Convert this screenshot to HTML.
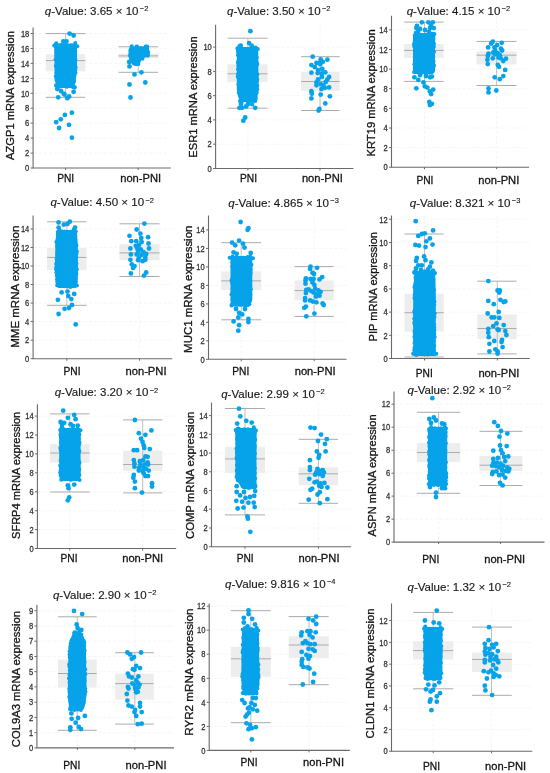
<!DOCTYPE html>
<html><head><meta charset="utf-8"><style>
html,body{margin:0;padding:0;background:#fff;}
svg{display:block;font-family:"Liberation Sans",sans-serif;filter:blur(0.4px);}
text{stroke:currentColor;stroke-width:0.28px;}
text.t{stroke-width:0.12px;}
</style></head><body>
<svg width="550" height="773" viewBox="0 0 550 773">
<rect width="550" height="773" fill="#fff"/>
<line x1="34.1" y1="153.1" x2="170.8" y2="153.1" stroke="#f2f2f2" stroke-width="0.8" stroke-dasharray="3,2"/>
<line x1="34.1" y1="138.1" x2="170.8" y2="138.1" stroke="#f2f2f2" stroke-width="0.8" stroke-dasharray="3,2"/>
<line x1="34.1" y1="123.2" x2="170.8" y2="123.2" stroke="#f2f2f2" stroke-width="0.8" stroke-dasharray="3,2"/>
<line x1="34.1" y1="108.2" x2="170.8" y2="108.2" stroke="#f2f2f2" stroke-width="0.8" stroke-dasharray="3,2"/>
<line x1="34.1" y1="93.3" x2="170.8" y2="93.3" stroke="#f2f2f2" stroke-width="0.8" stroke-dasharray="3,2"/>
<line x1="34.1" y1="78.4" x2="170.8" y2="78.4" stroke="#f2f2f2" stroke-width="0.8" stroke-dasharray="3,2"/>
<line x1="34.1" y1="63.4" x2="170.8" y2="63.4" stroke="#f2f2f2" stroke-width="0.8" stroke-dasharray="3,2"/>
<line x1="34.1" y1="48.5" x2="170.8" y2="48.5" stroke="#f2f2f2" stroke-width="0.8" stroke-dasharray="3,2"/>
<line x1="34.1" y1="33.5" x2="170.8" y2="33.5" stroke="#f2f2f2" stroke-width="0.8" stroke-dasharray="3,2"/>
<line x1="65.6" y1="27.5" x2="65.6" y2="168.0" stroke="#f2f2f2" stroke-width="0.8" stroke-dasharray="3,2"/>
<line x1="138.2" y1="27.5" x2="138.2" y2="168.0" stroke="#f2f2f2" stroke-width="0.8" stroke-dasharray="3,2"/>
<rect x="45.8" y="54.2" width="39.5" height="17.1" fill="#ededed"/>
<line x1="65.6" y1="33.6" x2="65.6" y2="97.3" stroke="#b0b0b0" stroke-width="0.8"/>
<line x1="45.8" y1="33.6" x2="85.3" y2="33.6" stroke="#ababab" stroke-width="1"/>
<line x1="45.8" y1="97.3" x2="85.3" y2="97.3" stroke="#ababab" stroke-width="1"/>
<line x1="45.8" y1="60.6" x2="85.3" y2="60.6" stroke="#ababab" stroke-width="1"/>
<rect x="118.5" y="53.6" width="39.7" height="4.6" fill="#ededed"/>
<line x1="138.2" y1="46.8" x2="138.2" y2="72.3" stroke="#b0b0b0" stroke-width="0.8"/>
<line x1="118.5" y1="46.8" x2="158.2" y2="46.8" stroke="#ababab" stroke-width="1"/>
<line x1="118.5" y1="72.3" x2="158.2" y2="72.3" stroke="#ababab" stroke-width="1"/>
<line x1="118.5" y1="55.9" x2="158.2" y2="55.9" stroke="#ababab" stroke-width="1"/>
<g fill="#06a3ea">
<path d="M55.0,43.5 L54.5,50.0 L54.5,60.0 L54.5,70.0 L55.0,78.0 L56.0,84.0 L57.0,88.0 L73.0,88.0 L75.0,84.0 L76.0,78.0 L77.0,70.0 L77.0,60.0 L77.0,50.0 L77.0,43.5Z"/>
<circle cx="56.2" cy="43.2" r="2"/>
<circle cx="55.8" cy="47.0" r="2"/>
<circle cx="56.1" cy="50.1" r="2"/>
<circle cx="56.3" cy="52.5" r="2"/>
<circle cx="56.2" cy="55.8" r="2"/>
<circle cx="55.6" cy="59.2" r="2"/>
<circle cx="56.9" cy="63.2" r="2"/>
<circle cx="55.8" cy="66.0" r="2"/>
<circle cx="57.1" cy="70.2" r="2"/>
<circle cx="56.3" cy="72.8" r="2"/>
<circle cx="55.8" cy="76.2" r="2"/>
<circle cx="56.4" cy="78.6" r="2"/>
<circle cx="56.6" cy="80.4" r="2"/>
<circle cx="58.4" cy="83.7" r="2"/>
<circle cx="75.3" cy="42.9" r="2"/>
<circle cx="75.0" cy="47.0" r="2"/>
<circle cx="74.4" cy="50.1" r="2"/>
<circle cx="74.7" cy="52.5" r="2"/>
<circle cx="75.1" cy="57.0" r="2"/>
<circle cx="75.4" cy="59.7" r="2"/>
<circle cx="74.8" cy="63.2" r="2"/>
<circle cx="75.6" cy="67.2" r="2"/>
<circle cx="75.3" cy="69.5" r="2"/>
<circle cx="75.5" cy="72.7" r="2"/>
<circle cx="74.2" cy="75.7" r="2"/>
<circle cx="73.5" cy="78.9" r="2"/>
<circle cx="74.2" cy="80.9" r="2"/>
<circle cx="73.2" cy="83.4" r="2"/>
<circle cx="54.2" cy="45.6" r="2"/>
<circle cx="58.2" cy="45.4" r="2"/>
<circle cx="61.2" cy="45.0" r="2"/>
<circle cx="63.6" cy="45.5" r="2"/>
<circle cx="66.1" cy="45.2" r="2"/>
<circle cx="69.4" cy="46.1" r="2"/>
<circle cx="71.5" cy="45.6" r="2"/>
<circle cx="73.5" cy="45.7" r="2"/>
<circle cx="77.3" cy="46.2" r="2"/>
<circle cx="57.6" cy="85.8" r="2"/>
<circle cx="59.5" cy="86.5" r="2"/>
<circle cx="61.5" cy="86.1" r="2"/>
<circle cx="64.4" cy="85.5" r="2"/>
<circle cx="66.9" cy="86.7" r="2"/>
<circle cx="69.7" cy="85.7" r="2"/>
<circle cx="72.8" cy="86.9" r="2"/>
<circle cx="69.6" cy="33.6" r="2.4"/>
<circle cx="73.6" cy="35.5" r="2.4"/>
<circle cx="63.3" cy="41.5" r="2.4"/>
<circle cx="66.4" cy="41.5" r="2.4"/>
<circle cx="58.2" cy="97.3" r="2.4"/>
<circle cx="64.5" cy="94.5" r="2.4"/>
<circle cx="67.3" cy="98.2" r="2.4"/>
<circle cx="69.1" cy="96.4" r="2.4"/>
<circle cx="73.6" cy="91.8" r="2.4"/>
<circle cx="74.5" cy="87.3" r="2.4"/>
<circle cx="57.3" cy="89.0" r="2.4"/>
<circle cx="56.4" cy="85.5" r="2.4"/>
<circle cx="63.6" cy="93.6" r="2.4"/>
<circle cx="61.0" cy="91.0" r="2.4"/>
<circle cx="71.9" cy="112.7" r="2.4"/>
<circle cx="64.9" cy="114.9" r="2.4"/>
<circle cx="60.8" cy="119.3" r="2.4"/>
<circle cx="56.2" cy="122.2" r="2.4"/>
<circle cx="69.0" cy="124.8" r="2.4"/>
<circle cx="59.1" cy="128.0" r="2.4"/>
<circle cx="71.9" cy="137.7" r="2.4"/>
</g>
<g fill="#06a3ea">
<path d="M130.0,47.0 L128.5,50.0 L128.5,53.0 L128.5,56.0 L129.0,58.0 L129.5,61.0 L133.0,64.0 L135.0,66.0 L139.0,66.0 L139.5,64.0 L140.5,61.0 L144.0,58.0 L149.5,56.0 L150.0,53.0 L149.0,50.0 L147.5,47.0Z"/>
<circle cx="131.7" cy="46.2" r="2"/>
<circle cx="131.0" cy="50.1" r="2"/>
<circle cx="131.0" cy="53.6" r="2"/>
<circle cx="130.1" cy="55.6" r="2"/>
<circle cx="131.5" cy="57.7" r="2"/>
<circle cx="130.7" cy="61.8" r="2"/>
<circle cx="134.3" cy="63.4" r="2"/>
<circle cx="145.7" cy="46.5" r="2"/>
<circle cx="146.8" cy="50.2" r="2"/>
<circle cx="148.1" cy="52.1" r="2"/>
<circle cx="147.8" cy="55.8" r="2"/>
<circle cx="142.5" cy="58.8" r="2"/>
<circle cx="138.9" cy="61.0" r="2"/>
<circle cx="136.9" cy="64.3" r="2"/>
<circle cx="130.7" cy="49.3" r="2"/>
<circle cx="133.6" cy="49.3" r="2"/>
<circle cx="135.6" cy="48.6" r="2"/>
<circle cx="138.0" cy="49.0" r="2"/>
<circle cx="140.9" cy="48.0" r="2"/>
<circle cx="144.1" cy="48.2" r="2"/>
<circle cx="147.2" cy="48.0" r="2"/>
<circle cx="134.1" cy="63.6" r="2"/>
<circle cx="138.3" cy="64.0" r="2"/>
<circle cx="129.5" cy="66.4" r="2.4"/>
<circle cx="129.2" cy="62.0" r="2.4"/>
<circle cx="134.5" cy="74.4" r="2.4"/>
<circle cx="141.4" cy="72.3" r="2.4"/>
<circle cx="129.5" cy="84.5" r="2.4"/>
<circle cx="145.3" cy="82.5" r="2.4"/>
<circle cx="130.5" cy="97.5" r="2.4"/>
<circle cx="146.8" cy="46.8" r="2.4"/>
<circle cx="136.8" cy="46.8" r="2.4"/>
</g>
<path d="M33.1,27.5 L33.1,168.0 L170.8,168.0" fill="none" stroke="#6a6a6a" stroke-width="1.1"/>
<line x1="30.6" y1="168.0" x2="33.1" y2="168.0" stroke="#6a6a6a" stroke-width="1"/>
<text x="25.1" y="171.2" font-size="8.7" textLength="4.20" lengthAdjust="spacingAndGlyphs" fill="#333" style="color:#333">0</text>
<line x1="30.6" y1="153.1" x2="33.1" y2="153.1" stroke="#6a6a6a" stroke-width="1"/>
<text x="25.1" y="156.3" font-size="8.7" textLength="4.20" lengthAdjust="spacingAndGlyphs" fill="#333" style="color:#333">2</text>
<line x1="30.6" y1="138.1" x2="33.1" y2="138.1" stroke="#6a6a6a" stroke-width="1"/>
<text x="25.1" y="141.3" font-size="8.7" textLength="4.20" lengthAdjust="spacingAndGlyphs" fill="#333" style="color:#333">4</text>
<line x1="30.6" y1="123.2" x2="33.1" y2="123.2" stroke="#6a6a6a" stroke-width="1"/>
<text x="25.1" y="126.4" font-size="8.7" textLength="4.20" lengthAdjust="spacingAndGlyphs" fill="#333" style="color:#333">6</text>
<line x1="30.6" y1="108.2" x2="33.1" y2="108.2" stroke="#6a6a6a" stroke-width="1"/>
<text x="25.1" y="111.4" font-size="8.7" textLength="4.20" lengthAdjust="spacingAndGlyphs" fill="#333" style="color:#333">8</text>
<line x1="30.6" y1="93.3" x2="33.1" y2="93.3" stroke="#6a6a6a" stroke-width="1"/>
<text x="20.9" y="96.5" font-size="8.7" textLength="8.40" lengthAdjust="spacingAndGlyphs" fill="#333" style="color:#333">10</text>
<line x1="30.6" y1="78.4" x2="33.1" y2="78.4" stroke="#6a6a6a" stroke-width="1"/>
<text x="20.9" y="81.6" font-size="8.7" textLength="8.40" lengthAdjust="spacingAndGlyphs" fill="#333" style="color:#333">12</text>
<line x1="30.6" y1="63.4" x2="33.1" y2="63.4" stroke="#6a6a6a" stroke-width="1"/>
<text x="20.9" y="66.6" font-size="8.7" textLength="8.40" lengthAdjust="spacingAndGlyphs" fill="#333" style="color:#333">14</text>
<line x1="30.6" y1="48.5" x2="33.1" y2="48.5" stroke="#6a6a6a" stroke-width="1"/>
<text x="20.9" y="51.7" font-size="8.7" textLength="8.40" lengthAdjust="spacingAndGlyphs" fill="#333" style="color:#333">16</text>
<line x1="30.6" y1="33.5" x2="33.1" y2="33.5" stroke="#6a6a6a" stroke-width="1"/>
<text x="20.9" y="36.7" font-size="8.7" textLength="8.40" lengthAdjust="spacingAndGlyphs" fill="#333" style="color:#333">18</text>
<line x1="65.6" y1="168.0" x2="65.6" y2="170.0" stroke="#6a6a6a" stroke-width="1"/>
<text x="57.2" y="182.4" font-size="11.3" textLength="17" lengthAdjust="spacingAndGlyphs" fill="#222">PNI</text>
<line x1="138.2" y1="168.0" x2="138.2" y2="170.0" stroke="#6a6a6a" stroke-width="1"/>
<text x="120.2" y="182.4" font-size="11.3" textLength="41" lengthAdjust="spacingAndGlyphs" fill="#222">non-PNI</text>
<text transform="translate(13.9,95.5) rotate(-90)" x="-64.5" y="0" font-size="11.2" textLength="129" lengthAdjust="spacingAndGlyphs" fill="#222">AZGP1 mRNA expression</text>
<text class="t" x="44.8" y="14.9" font-size="10.6" fill="#222" textLength="93.7" lengthAdjust="spacingAndGlyphs"><tspan font-style="italic">q</tspan>-Value: 3.65 × 10</text>
<text class="t" x="139.8" y="11.0" font-size="7.8" textLength="8.5" lengthAdjust="spacingAndGlyphs" fill="#222">−2</text>
<line x1="216.6" y1="144.2" x2="353.4" y2="144.2" stroke="#f2f2f2" stroke-width="0.8" stroke-dasharray="3,2"/>
<line x1="216.6" y1="119.9" x2="353.4" y2="119.9" stroke="#f2f2f2" stroke-width="0.8" stroke-dasharray="3,2"/>
<line x1="216.6" y1="95.7" x2="353.4" y2="95.7" stroke="#f2f2f2" stroke-width="0.8" stroke-dasharray="3,2"/>
<line x1="216.6" y1="71.4" x2="353.4" y2="71.4" stroke="#f2f2f2" stroke-width="0.8" stroke-dasharray="3,2"/>
<line x1="216.6" y1="47.1" x2="353.4" y2="47.1" stroke="#f2f2f2" stroke-width="0.8" stroke-dasharray="3,2"/>
<line x1="247.9" y1="24.7" x2="247.9" y2="168.5" stroke="#f2f2f2" stroke-width="0.8" stroke-dasharray="3,2"/>
<line x1="320.0" y1="24.7" x2="320.0" y2="168.5" stroke="#f2f2f2" stroke-width="0.8" stroke-dasharray="3,2"/>
<rect x="227.5" y="64.4" width="40.0" height="17.6" fill="#ededed"/>
<line x1="247.9" y1="38.2" x2="247.9" y2="108.2" stroke="#b0b0b0" stroke-width="0.8"/>
<line x1="227.5" y1="38.2" x2="267.5" y2="38.2" stroke="#ababab" stroke-width="1"/>
<line x1="227.5" y1="108.2" x2="267.5" y2="108.2" stroke="#ababab" stroke-width="1"/>
<line x1="227.5" y1="73.8" x2="267.5" y2="73.8" stroke="#ababab" stroke-width="1"/>
<rect x="301.1" y="72.0" width="38.5" height="18.9" fill="#ededed"/>
<line x1="320.0" y1="56.7" x2="320.0" y2="110.5" stroke="#b0b0b0" stroke-width="0.8"/>
<line x1="301.1" y1="56.7" x2="339.6" y2="56.7" stroke="#ababab" stroke-width="1"/>
<line x1="301.1" y1="110.5" x2="339.6" y2="110.5" stroke="#ababab" stroke-width="1"/>
<line x1="301.1" y1="81.5" x2="339.6" y2="81.5" stroke="#ababab" stroke-width="1"/>
<g fill="#06a3ea">
<path d="M237.0,47.0 L236.8,50.0 L236.8,90.0 L238.0,96.0 L240.0,102.0 L256.0,102.0 L257.5,96.0 L258.5,90.0 L258.2,50.0 L257.0,47.0Z"/>
<circle cx="239.5" cy="46.1" r="2"/>
<circle cx="238.0" cy="50.2" r="2"/>
<circle cx="238.3" cy="52.2" r="2"/>
<circle cx="237.9" cy="55.1" r="2"/>
<circle cx="239.5" cy="58.6" r="2"/>
<circle cx="238.6" cy="60.6" r="2"/>
<circle cx="237.9" cy="62.6" r="2"/>
<circle cx="238.2" cy="65.7" r="2"/>
<circle cx="238.0" cy="69.3" r="2"/>
<circle cx="239.4" cy="70.5" r="2"/>
<circle cx="238.0" cy="74.1" r="2"/>
<circle cx="237.7" cy="76.7" r="2"/>
<circle cx="239.5" cy="79.4" r="2"/>
<circle cx="239.0" cy="82.7" r="2"/>
<circle cx="238.4" cy="84.2" r="2"/>
<circle cx="239.1" cy="86.7" r="2"/>
<circle cx="239.1" cy="90.1" r="2"/>
<circle cx="238.7" cy="92.7" r="2"/>
<circle cx="240.7" cy="96.6" r="2"/>
<circle cx="241.4" cy="99.6" r="2"/>
<circle cx="255.6" cy="47.6" r="2"/>
<circle cx="256.4" cy="49.5" r="2"/>
<circle cx="255.6" cy="52.4" r="2"/>
<circle cx="256.0" cy="54.5" r="2"/>
<circle cx="256.8" cy="57.6" r="2"/>
<circle cx="256.4" cy="61.5" r="2"/>
<circle cx="257.4" cy="64.1" r="2"/>
<circle cx="256.3" cy="66.8" r="2"/>
<circle cx="256.0" cy="68.2" r="2"/>
<circle cx="256.0" cy="70.8" r="2"/>
<circle cx="257.3" cy="74.2" r="2"/>
<circle cx="256.6" cy="77.3" r="2"/>
<circle cx="257.2" cy="79.6" r="2"/>
<circle cx="256.9" cy="81.3" r="2"/>
<circle cx="257.2" cy="85.4" r="2"/>
<circle cx="256.6" cy="87.8" r="2"/>
<circle cx="257.2" cy="89.4" r="2"/>
<circle cx="256.7" cy="92.7" r="2"/>
<circle cx="255.5" cy="96.8" r="2"/>
<circle cx="255.8" cy="98.8" r="2"/>
<circle cx="237.4" cy="48.2" r="2"/>
<circle cx="239.2" cy="48.2" r="2"/>
<circle cx="243.4" cy="49.4" r="2"/>
<circle cx="244.9" cy="49.4" r="2"/>
<circle cx="249.3" cy="49.1" r="2"/>
<circle cx="251.0" cy="48.9" r="2"/>
<circle cx="253.5" cy="47.9" r="2"/>
<circle cx="257.8" cy="49.1" r="2"/>
<circle cx="240.0" cy="101.0" r="2"/>
<circle cx="242.5" cy="100.9" r="2"/>
<circle cx="245.9" cy="99.7" r="2"/>
<circle cx="247.6" cy="99.8" r="2"/>
<circle cx="250.2" cy="100.4" r="2"/>
<circle cx="252.9" cy="100.1" r="2"/>
<circle cx="255.3" cy="100.9" r="2"/>
<circle cx="250.4" cy="31.2" r="2.4"/>
<circle cx="240.7" cy="45.7" r="2.4"/>
<circle cx="249.1" cy="43.1" r="2.4"/>
<circle cx="251.7" cy="45.7" r="2.4"/>
<circle cx="254.3" cy="48.3" r="2.4"/>
<circle cx="239.4" cy="107.8" r="2.4"/>
<circle cx="242.0" cy="107.8" r="2.4"/>
<circle cx="246.0" cy="106.5" r="2.4"/>
<circle cx="255.2" cy="107.8" r="2.4"/>
<circle cx="245.2" cy="117.5" r="2.4"/>
<circle cx="243.3" cy="120.7" r="2.4"/>
<circle cx="241.0" cy="104.0" r="2.4"/>
<circle cx="252.0" cy="104.0" r="2.4"/>
<circle cx="248.0" cy="104.0" r="2.4"/>
</g>
<g fill="#06a3ea">
<circle cx="312.7" cy="56.7" r="2.4"/>
<circle cx="320.7" cy="59.3" r="2.4"/>
<circle cx="327.4" cy="59.7" r="2.4"/>
<circle cx="316.5" cy="63.0" r="2.4"/>
<circle cx="319.8" cy="62.6" r="2.4"/>
<circle cx="322.8" cy="61.8" r="2.4"/>
<circle cx="311.4" cy="65.1" r="2.4"/>
<circle cx="314.8" cy="67.2" r="2.4"/>
<circle cx="320.2" cy="64.3" r="2.4"/>
<circle cx="322.3" cy="68.9" r="2.4"/>
<circle cx="318.1" cy="70.2" r="2.4"/>
<circle cx="311.4" cy="72.7" r="2.4"/>
<circle cx="317.7" cy="73.1" r="2.4"/>
<circle cx="325.3" cy="72.3" r="2.4"/>
<circle cx="321.9" cy="73.5" r="2.4"/>
<circle cx="329.1" cy="76.9" r="2.4"/>
<circle cx="321.9" cy="76.9" r="2.4"/>
<circle cx="318.1" cy="79.4" r="2.4"/>
<circle cx="327.4" cy="79.4" r="2.4"/>
<circle cx="316.5" cy="82.4" r="2.4"/>
<circle cx="325.7" cy="82.0" r="2.4"/>
<circle cx="320.7" cy="84.1" r="2.4"/>
<circle cx="316.5" cy="85.3" r="2.4"/>
<circle cx="323.2" cy="85.3" r="2.4"/>
<circle cx="329.1" cy="87.4" r="2.4"/>
<circle cx="324.9" cy="87.8" r="2.4"/>
<circle cx="321.5" cy="89.1" r="2.4"/>
<circle cx="311.4" cy="91.2" r="2.4"/>
<circle cx="311.8" cy="93.7" r="2.4"/>
<circle cx="320.7" cy="94.6" r="2.4"/>
<circle cx="311.4" cy="98.4" r="2.4"/>
<circle cx="329.9" cy="96.3" r="2.4"/>
<circle cx="325.3" cy="103.4" r="2.4"/>
<circle cx="319.4" cy="108.9" r="2.4"/>
<circle cx="318.6" cy="110.6" r="2.4"/>
</g>
<path d="M215.6,24.7 L215.6,168.5 L353.4,168.5" fill="none" stroke="#6a6a6a" stroke-width="1.1"/>
<line x1="213.1" y1="168.5" x2="215.6" y2="168.5" stroke="#6a6a6a" stroke-width="1"/>
<text x="207.6" y="171.7" font-size="8.7" textLength="4.20" lengthAdjust="spacingAndGlyphs" fill="#333" style="color:#333">0</text>
<line x1="213.1" y1="144.2" x2="215.6" y2="144.2" stroke="#6a6a6a" stroke-width="1"/>
<text x="207.6" y="147.4" font-size="8.7" textLength="4.20" lengthAdjust="spacingAndGlyphs" fill="#333" style="color:#333">2</text>
<line x1="213.1" y1="119.9" x2="215.6" y2="119.9" stroke="#6a6a6a" stroke-width="1"/>
<text x="207.6" y="123.1" font-size="8.7" textLength="4.20" lengthAdjust="spacingAndGlyphs" fill="#333" style="color:#333">4</text>
<line x1="213.1" y1="95.7" x2="215.6" y2="95.7" stroke="#6a6a6a" stroke-width="1"/>
<text x="207.6" y="98.9" font-size="8.7" textLength="4.20" lengthAdjust="spacingAndGlyphs" fill="#333" style="color:#333">6</text>
<line x1="213.1" y1="71.4" x2="215.6" y2="71.4" stroke="#6a6a6a" stroke-width="1"/>
<text x="207.6" y="74.6" font-size="8.7" textLength="4.20" lengthAdjust="spacingAndGlyphs" fill="#333" style="color:#333">8</text>
<line x1="213.1" y1="47.1" x2="215.6" y2="47.1" stroke="#6a6a6a" stroke-width="1"/>
<text x="203.4" y="50.3" font-size="8.7" textLength="8.40" lengthAdjust="spacingAndGlyphs" fill="#333" style="color:#333">10</text>
<line x1="247.9" y1="168.5" x2="247.9" y2="170.5" stroke="#6a6a6a" stroke-width="1"/>
<text x="240.0" y="182.4" font-size="11.3" textLength="17" lengthAdjust="spacingAndGlyphs" fill="#222">PNI</text>
<line x1="320.0" y1="168.5" x2="320.0" y2="170.5" stroke="#6a6a6a" stroke-width="1"/>
<text x="301.9" y="182.4" font-size="11.3" textLength="41" lengthAdjust="spacingAndGlyphs" fill="#222">non-PNI</text>
<text transform="translate(197.0,97.0) rotate(-90)" x="-60.7" y="0" font-size="11.2" textLength="121.4" lengthAdjust="spacingAndGlyphs" fill="#222">ESR1 mRNA expression</text>
<text class="t" x="227.0" y="14.9" font-size="10.6" fill="#222" textLength="93.7" lengthAdjust="spacingAndGlyphs"><tspan font-style="italic">q</tspan>-Value: 3.50 × 10</text>
<text class="t" x="322.0" y="11.0" font-size="7.8" textLength="8.5" lengthAdjust="spacingAndGlyphs" fill="#222">−2</text>
<line x1="392.5" y1="147.6" x2="529.1" y2="147.6" stroke="#f2f2f2" stroke-width="0.8" stroke-dasharray="3,2"/>
<line x1="392.5" y1="128.0" x2="529.1" y2="128.0" stroke="#f2f2f2" stroke-width="0.8" stroke-dasharray="3,2"/>
<line x1="392.5" y1="108.3" x2="529.1" y2="108.3" stroke="#f2f2f2" stroke-width="0.8" stroke-dasharray="3,2"/>
<line x1="392.5" y1="88.7" x2="529.1" y2="88.7" stroke="#f2f2f2" stroke-width="0.8" stroke-dasharray="3,2"/>
<line x1="392.5" y1="69.1" x2="529.1" y2="69.1" stroke="#f2f2f2" stroke-width="0.8" stroke-dasharray="3,2"/>
<line x1="392.5" y1="49.5" x2="529.1" y2="49.5" stroke="#f2f2f2" stroke-width="0.8" stroke-dasharray="3,2"/>
<line x1="392.5" y1="29.9" x2="529.1" y2="29.9" stroke="#f2f2f2" stroke-width="0.8" stroke-dasharray="3,2"/>
<line x1="424.5" y1="15.8" x2="424.5" y2="167.2" stroke="#f2f2f2" stroke-width="0.8" stroke-dasharray="3,2"/>
<line x1="496.6" y1="15.8" x2="496.6" y2="167.2" stroke="#f2f2f2" stroke-width="0.8" stroke-dasharray="3,2"/>
<rect x="404.2" y="44.0" width="39.4" height="14.0" fill="#ededed"/>
<line x1="424.5" y1="22.1" x2="424.5" y2="81.4" stroke="#b0b0b0" stroke-width="0.8"/>
<line x1="404.2" y1="22.1" x2="443.6" y2="22.1" stroke="#ababab" stroke-width="1"/>
<line x1="404.2" y1="81.4" x2="443.6" y2="81.4" stroke="#ababab" stroke-width="1"/>
<line x1="404.2" y1="50.4" x2="443.6" y2="50.4" stroke="#ababab" stroke-width="1"/>
<rect x="476.5" y="51.3" width="40.0" height="13.1" fill="#ededed"/>
<line x1="496.6" y1="41.4" x2="496.6" y2="85.5" stroke="#b0b0b0" stroke-width="0.8"/>
<line x1="476.5" y1="41.4" x2="516.5" y2="41.4" stroke="#ababab" stroke-width="1"/>
<line x1="476.5" y1="85.5" x2="516.5" y2="85.5" stroke="#ababab" stroke-width="1"/>
<line x1="476.5" y1="55.2" x2="516.5" y2="55.2" stroke="#ababab" stroke-width="1"/>
<g fill="#06a3ea">
<path d="M414.0,33.0 L413.0,36.0 L413.0,70.0 L414.0,74.0 L433.0,74.0 L435.0,70.0 L435.0,36.0 L434.0,33.0Z"/>
<circle cx="415.7" cy="32.7" r="2"/>
<circle cx="415.5" cy="36.2" r="2"/>
<circle cx="415.6" cy="38.5" r="2"/>
<circle cx="414.9" cy="41.2" r="2"/>
<circle cx="413.9" cy="43.9" r="2"/>
<circle cx="414.2" cy="46.4" r="2"/>
<circle cx="415.3" cy="48.2" r="2"/>
<circle cx="414.8" cy="51.1" r="2"/>
<circle cx="414.9" cy="54.7" r="2"/>
<circle cx="414.8" cy="56.6" r="2"/>
<circle cx="415.3" cy="59.6" r="2"/>
<circle cx="414.9" cy="61.4" r="2"/>
<circle cx="414.4" cy="64.3" r="2"/>
<circle cx="414.8" cy="67.9" r="2"/>
<circle cx="415.3" cy="70.1" r="2"/>
<circle cx="432.1" cy="33.7" r="2"/>
<circle cx="433.2" cy="36.2" r="2"/>
<circle cx="433.5" cy="38.6" r="2"/>
<circle cx="433.3" cy="41.1" r="2"/>
<circle cx="434.0" cy="43.8" r="2"/>
<circle cx="433.9" cy="46.8" r="2"/>
<circle cx="432.8" cy="49.9" r="2"/>
<circle cx="434.0" cy="51.8" r="2"/>
<circle cx="432.5" cy="54.9" r="2"/>
<circle cx="433.1" cy="56.2" r="2"/>
<circle cx="432.7" cy="58.8" r="2"/>
<circle cx="433.5" cy="61.4" r="2"/>
<circle cx="433.9" cy="65.3" r="2"/>
<circle cx="433.6" cy="66.8" r="2"/>
<circle cx="432.6" cy="70.3" r="2"/>
<circle cx="414.7" cy="35.6" r="2"/>
<circle cx="416.4" cy="35.6" r="2"/>
<circle cx="419.5" cy="34.8" r="2"/>
<circle cx="423.5" cy="35.4" r="2"/>
<circle cx="424.8" cy="34.7" r="2"/>
<circle cx="428.3" cy="34.5" r="2"/>
<circle cx="430.6" cy="34.5" r="2"/>
<circle cx="434.4" cy="33.9" r="2"/>
<circle cx="414.1" cy="72.1" r="2"/>
<circle cx="415.8" cy="71.9" r="2"/>
<circle cx="419.7" cy="72.2" r="2"/>
<circle cx="421.4" cy="73.1" r="2"/>
<circle cx="425.4" cy="73.0" r="2"/>
<circle cx="426.9" cy="71.8" r="2"/>
<circle cx="429.5" cy="72.7" r="2"/>
<circle cx="432.6" cy="71.5" r="2"/>
<circle cx="416.3" cy="28.1" r="2.4"/>
<circle cx="420.0" cy="29.0" r="2.4"/>
<circle cx="425.0" cy="30.0" r="2.4"/>
<circle cx="430.0" cy="28.0" r="2.4"/>
<circle cx="433.8" cy="28.1" r="2.4"/>
<circle cx="418.0" cy="32.0" r="2.4"/>
<circle cx="429.0" cy="32.0" r="2.4"/>
<circle cx="421.9" cy="22.3" r="2.4"/>
<circle cx="428.4" cy="22.3" r="2.4"/>
<circle cx="432.8" cy="22.3" r="2.4"/>
<circle cx="417.0" cy="26.0" r="2.4"/>
<circle cx="431.0" cy="25.0" r="2.4"/>
<circle cx="414.4" cy="77.3" r="2.4"/>
<circle cx="418.3" cy="79.9" r="2.4"/>
<circle cx="430.0" cy="77.3" r="2.4"/>
<circle cx="431.9" cy="76.6" r="2.4"/>
<circle cx="423.5" cy="82.4" r="2.4"/>
<circle cx="424.8" cy="86.3" r="2.4"/>
<circle cx="427.3" cy="87.6" r="2.4"/>
<circle cx="416.3" cy="88.3" r="2.4"/>
<circle cx="433.2" cy="89.6" r="2.4"/>
<circle cx="429.9" cy="91.5" r="2.4"/>
<circle cx="431.2" cy="94.1" r="2.4"/>
<circle cx="429.3" cy="101.9" r="2.4"/>
<circle cx="431.9" cy="103.8" r="2.4"/>
<circle cx="429.9" cy="105.1" r="2.4"/>
<circle cx="420.0" cy="75.0" r="2.4"/>
<circle cx="426.0" cy="76.0" r="2.4"/>
</g>
<g fill="#06a3ea">
<circle cx="492.8" cy="41.6" r="2.4"/>
<circle cx="491.2" cy="43.5" r="2.4"/>
<circle cx="501.7" cy="42.8" r="2.4"/>
<circle cx="497.1" cy="45.1" r="2.4"/>
<circle cx="488.1" cy="47.4" r="2.4"/>
<circle cx="494.4" cy="47.4" r="2.4"/>
<circle cx="500.9" cy="48.6" r="2.4"/>
<circle cx="502.1" cy="50.5" r="2.4"/>
<circle cx="495.1" cy="50.5" r="2.4"/>
<circle cx="493.2" cy="52.5" r="2.4"/>
<circle cx="488.5" cy="53.6" r="2.4"/>
<circle cx="497.8" cy="53.2" r="2.4"/>
<circle cx="499.8" cy="55.2" r="2.4"/>
<circle cx="495.1" cy="54.4" r="2.4"/>
<circle cx="487.8" cy="55.9" r="2.4"/>
<circle cx="492.8" cy="58.3" r="2.4"/>
<circle cx="498.6" cy="57.5" r="2.4"/>
<circle cx="500.9" cy="58.3" r="2.4"/>
<circle cx="506.0" cy="58.7" r="2.4"/>
<circle cx="503.3" cy="61.0" r="2.4"/>
<circle cx="487.4" cy="59.8" r="2.4"/>
<circle cx="487.8" cy="64.1" r="2.4"/>
<circle cx="497.8" cy="64.9" r="2.4"/>
<circle cx="499.0" cy="66.8" r="2.4"/>
<circle cx="505.2" cy="69.9" r="2.4"/>
<circle cx="494.7" cy="77.3" r="2.4"/>
<circle cx="499.8" cy="79.2" r="2.4"/>
<circle cx="503.3" cy="76.1" r="2.4"/>
<circle cx="488.5" cy="88.5" r="2.4"/>
<circle cx="488.5" cy="92.4" r="2.4"/>
<circle cx="496.3" cy="90.5" r="2.4"/>
</g>
<path d="M391.5,15.8 L391.5,167.2 L529.1,167.2" fill="none" stroke="#6a6a6a" stroke-width="1.1"/>
<line x1="389.0" y1="167.2" x2="391.5" y2="167.2" stroke="#6a6a6a" stroke-width="1"/>
<text x="383.5" y="170.4" font-size="8.7" textLength="4.20" lengthAdjust="spacingAndGlyphs" fill="#333" style="color:#333">0</text>
<line x1="389.0" y1="147.6" x2="391.5" y2="147.6" stroke="#6a6a6a" stroke-width="1"/>
<text x="383.5" y="150.8" font-size="8.7" textLength="4.20" lengthAdjust="spacingAndGlyphs" fill="#333" style="color:#333">2</text>
<line x1="389.0" y1="128.0" x2="391.5" y2="128.0" stroke="#6a6a6a" stroke-width="1"/>
<text x="383.5" y="131.2" font-size="8.7" textLength="4.20" lengthAdjust="spacingAndGlyphs" fill="#333" style="color:#333">4</text>
<line x1="389.0" y1="108.3" x2="391.5" y2="108.3" stroke="#6a6a6a" stroke-width="1"/>
<text x="383.5" y="111.5" font-size="8.7" textLength="4.20" lengthAdjust="spacingAndGlyphs" fill="#333" style="color:#333">6</text>
<line x1="389.0" y1="88.7" x2="391.5" y2="88.7" stroke="#6a6a6a" stroke-width="1"/>
<text x="383.5" y="91.9" font-size="8.7" textLength="4.20" lengthAdjust="spacingAndGlyphs" fill="#333" style="color:#333">8</text>
<line x1="389.0" y1="69.1" x2="391.5" y2="69.1" stroke="#6a6a6a" stroke-width="1"/>
<text x="379.3" y="72.3" font-size="8.7" textLength="8.40" lengthAdjust="spacingAndGlyphs" fill="#333" style="color:#333">10</text>
<line x1="389.0" y1="49.5" x2="391.5" y2="49.5" stroke="#6a6a6a" stroke-width="1"/>
<text x="379.3" y="52.7" font-size="8.7" textLength="8.40" lengthAdjust="spacingAndGlyphs" fill="#333" style="color:#333">12</text>
<line x1="389.0" y1="29.9" x2="391.5" y2="29.9" stroke="#6a6a6a" stroke-width="1"/>
<text x="379.3" y="33.1" font-size="8.7" textLength="8.40" lengthAdjust="spacingAndGlyphs" fill="#333" style="color:#333">14</text>
<line x1="424.5" y1="167.2" x2="424.5" y2="169.2" stroke="#6a6a6a" stroke-width="1"/>
<text x="416.4" y="184.1" font-size="11.3" textLength="17" lengthAdjust="spacingAndGlyphs" fill="#222">PNI</text>
<line x1="496.6" y1="167.2" x2="496.6" y2="169.2" stroke="#6a6a6a" stroke-width="1"/>
<text x="478.3" y="184.1" font-size="11.3" textLength="41" lengthAdjust="spacingAndGlyphs" fill="#222">non-PNI</text>
<text transform="translate(375.4,92.9) rotate(-90)" x="-63.6" y="0" font-size="11.2" textLength="127.2" lengthAdjust="spacingAndGlyphs" fill="#222">KRT19 mRNA expression</text>
<text class="t" x="406.7" y="14.9" font-size="10.6" fill="#222" textLength="93.7" lengthAdjust="spacingAndGlyphs"><tspan font-style="italic">q</tspan>-Value: 4.15 × 10</text>
<text class="t" x="501.7" y="11.0" font-size="7.8" textLength="8.5" lengthAdjust="spacingAndGlyphs" fill="#222">−2</text>
<line x1="34.1" y1="340.2" x2="172.3" y2="340.2" stroke="#f2f2f2" stroke-width="0.8" stroke-dasharray="3,2"/>
<line x1="34.1" y1="321.6" x2="172.3" y2="321.6" stroke="#f2f2f2" stroke-width="0.8" stroke-dasharray="3,2"/>
<line x1="34.1" y1="303.1" x2="172.3" y2="303.1" stroke="#f2f2f2" stroke-width="0.8" stroke-dasharray="3,2"/>
<line x1="34.1" y1="284.5" x2="172.3" y2="284.5" stroke="#f2f2f2" stroke-width="0.8" stroke-dasharray="3,2"/>
<line x1="34.1" y1="266.0" x2="172.3" y2="266.0" stroke="#f2f2f2" stroke-width="0.8" stroke-dasharray="3,2"/>
<line x1="34.1" y1="247.5" x2="172.3" y2="247.5" stroke="#f2f2f2" stroke-width="0.8" stroke-dasharray="3,2"/>
<line x1="34.1" y1="228.9" x2="172.3" y2="228.9" stroke="#f2f2f2" stroke-width="0.8" stroke-dasharray="3,2"/>
<line x1="66.8" y1="215.5" x2="66.8" y2="358.7" stroke="#f2f2f2" stroke-width="0.8" stroke-dasharray="3,2"/>
<line x1="139.5" y1="215.5" x2="139.5" y2="358.7" stroke="#f2f2f2" stroke-width="0.8" stroke-dasharray="3,2"/>
<rect x="47.1" y="248.0" width="39.4" height="22.2" fill="#ededed"/>
<line x1="66.8" y1="221.8" x2="66.8" y2="305.3" stroke="#b0b0b0" stroke-width="0.8"/>
<line x1="47.1" y1="221.8" x2="86.5" y2="221.8" stroke="#ababab" stroke-width="1"/>
<line x1="47.1" y1="305.3" x2="86.5" y2="305.3" stroke="#ababab" stroke-width="1"/>
<line x1="47.1" y1="257.4" x2="86.5" y2="257.4" stroke="#ababab" stroke-width="1"/>
<rect x="119.5" y="244.2" width="40.0" height="16.0" fill="#ededed"/>
<line x1="139.5" y1="223.8" x2="139.5" y2="276.5" stroke="#b0b0b0" stroke-width="0.8"/>
<line x1="119.5" y1="223.8" x2="159.5" y2="223.8" stroke="#ababab" stroke-width="1"/>
<line x1="119.5" y1="276.5" x2="159.5" y2="276.5" stroke="#ababab" stroke-width="1"/>
<line x1="119.5" y1="252.9" x2="159.5" y2="252.9" stroke="#ababab" stroke-width="1"/>
<g fill="#06a3ea">
<path d="M57.0,230.0 L55.5,240.0 L54.9,270.0 L56.0,282.0 L58.0,288.0 L76.0,288.0 L77.5,282.0 L78.0,270.0 L77.5,240.0 L76.5,230.0Z"/>
<circle cx="59.5" cy="229.9" r="2"/>
<circle cx="57.9" cy="233.9" r="2"/>
<circle cx="58.6" cy="236.0" r="2"/>
<circle cx="57.7" cy="240.1" r="2"/>
<circle cx="56.4" cy="242.0" r="2"/>
<circle cx="57.1" cy="245.8" r="2"/>
<circle cx="57.9" cy="247.4" r="2"/>
<circle cx="57.6" cy="251.2" r="2"/>
<circle cx="57.7" cy="252.9" r="2"/>
<circle cx="57.6" cy="255.6" r="2"/>
<circle cx="56.6" cy="259.0" r="2"/>
<circle cx="57.6" cy="261.9" r="2"/>
<circle cx="56.1" cy="264.1" r="2"/>
<circle cx="56.3" cy="267.3" r="2"/>
<circle cx="56.1" cy="269.3" r="2"/>
<circle cx="56.4" cy="272.2" r="2"/>
<circle cx="56.9" cy="275.7" r="2"/>
<circle cx="57.1" cy="279.5" r="2"/>
<circle cx="57.2" cy="282.0" r="2"/>
<circle cx="57.9" cy="284.7" r="2"/>
<circle cx="73.8" cy="229.6" r="2"/>
<circle cx="75.1" cy="233.8" r="2"/>
<circle cx="75.3" cy="236.1" r="2"/>
<circle cx="75.0" cy="240.8" r="2"/>
<circle cx="75.6" cy="243.3" r="2"/>
<circle cx="76.4" cy="245.4" r="2"/>
<circle cx="75.8" cy="248.0" r="2"/>
<circle cx="76.8" cy="251.2" r="2"/>
<circle cx="76.5" cy="253.4" r="2"/>
<circle cx="76.2" cy="256.7" r="2"/>
<circle cx="75.7" cy="258.9" r="2"/>
<circle cx="75.4" cy="261.0" r="2"/>
<circle cx="76.5" cy="263.8" r="2"/>
<circle cx="75.5" cy="266.8" r="2"/>
<circle cx="76.8" cy="269.3" r="2"/>
<circle cx="76.4" cy="273.7" r="2"/>
<circle cx="75.5" cy="275.6" r="2"/>
<circle cx="75.8" cy="278.6" r="2"/>
<circle cx="75.6" cy="281.4" r="2"/>
<circle cx="75.8" cy="284.6" r="2"/>
<circle cx="57.9" cy="231.9" r="2"/>
<circle cx="59.3" cy="232.6" r="2"/>
<circle cx="62.2" cy="231.5" r="2"/>
<circle cx="64.5" cy="231.6" r="2"/>
<circle cx="68.1" cy="231.8" r="2"/>
<circle cx="70.4" cy="231.8" r="2"/>
<circle cx="72.8" cy="231.4" r="2"/>
<circle cx="75.8" cy="231.6" r="2"/>
<circle cx="57.2" cy="285.3" r="2"/>
<circle cx="60.6" cy="285.7" r="2"/>
<circle cx="64.2" cy="286.3" r="2"/>
<circle cx="67.5" cy="286.5" r="2"/>
<circle cx="70.4" cy="286.9" r="2"/>
<circle cx="72.8" cy="285.9" r="2"/>
<circle cx="76.9" cy="285.6" r="2"/>
<circle cx="58.6" cy="222.4" r="2.4"/>
<circle cx="63.8" cy="224.7" r="2.4"/>
<circle cx="69.8" cy="221.7" r="2.4"/>
<circle cx="67.5" cy="223.9" r="2.4"/>
<circle cx="58.6" cy="227.6" r="2.4"/>
<circle cx="75.0" cy="227.6" r="2.4"/>
<circle cx="61.6" cy="292.4" r="2.4"/>
<circle cx="67.5" cy="291.6" r="2.4"/>
<circle cx="74.2" cy="293.9" r="2.4"/>
<circle cx="68.3" cy="296.1" r="2.4"/>
<circle cx="57.9" cy="299.8" r="2.4"/>
<circle cx="71.3" cy="299.1" r="2.4"/>
<circle cx="72.0" cy="305.0" r="2.4"/>
<circle cx="69.0" cy="308.0" r="2.4"/>
<circle cx="64.6" cy="308.8" r="2.4"/>
<circle cx="58.6" cy="314.0" r="2.4"/>
<circle cx="75.7" cy="324.4" r="2.4"/>
</g>
<g fill="#06a3ea">
<circle cx="144.4" cy="223.6" r="2.4"/>
<circle cx="136.7" cy="229.5" r="2.4"/>
<circle cx="140.4" cy="233.6" r="2.4"/>
<circle cx="141.3" cy="238.1" r="2.4"/>
<circle cx="129.5" cy="235.8" r="2.4"/>
<circle cx="148.1" cy="237.2" r="2.4"/>
<circle cx="131.3" cy="241.2" r="2.4"/>
<circle cx="136.3" cy="241.2" r="2.4"/>
<circle cx="141.7" cy="242.1" r="2.4"/>
<circle cx="148.5" cy="243.5" r="2.4"/>
<circle cx="135.8" cy="245.8" r="2.4"/>
<circle cx="139.0" cy="244.9" r="2.4"/>
<circle cx="149.0" cy="248.5" r="2.4"/>
<circle cx="130.4" cy="248.5" r="2.4"/>
<circle cx="137.2" cy="248.5" r="2.4"/>
<circle cx="140.8" cy="249.4" r="2.4"/>
<circle cx="138.1" cy="252.1" r="2.4"/>
<circle cx="143.5" cy="252.1" r="2.4"/>
<circle cx="146.2" cy="253.9" r="2.4"/>
<circle cx="130.9" cy="254.4" r="2.4"/>
<circle cx="136.7" cy="254.4" r="2.4"/>
<circle cx="141.7" cy="254.8" r="2.4"/>
<circle cx="139.0" cy="257.5" r="2.4"/>
<circle cx="145.3" cy="257.5" r="2.4"/>
<circle cx="130.4" cy="259.8" r="2.4"/>
<circle cx="138.1" cy="260.2" r="2.4"/>
<circle cx="142.6" cy="261.2" r="2.4"/>
<circle cx="145.3" cy="259.8" r="2.4"/>
<circle cx="131.8" cy="264.3" r="2.4"/>
<circle cx="134.5" cy="266.1" r="2.4"/>
<circle cx="133.1" cy="267.9" r="2.4"/>
<circle cx="130.9" cy="273.4" r="2.4"/>
<circle cx="146.2" cy="272.5" r="2.4"/>
<circle cx="144.0" cy="275.6" r="2.4"/>
</g>
<path d="M33.1,215.5 L33.1,358.7 L172.3,358.7" fill="none" stroke="#6a6a6a" stroke-width="1.1"/>
<line x1="30.6" y1="358.7" x2="33.1" y2="358.7" stroke="#6a6a6a" stroke-width="1"/>
<text x="25.1" y="361.9" font-size="8.7" textLength="4.20" lengthAdjust="spacingAndGlyphs" fill="#333" style="color:#333">0</text>
<line x1="30.6" y1="340.2" x2="33.1" y2="340.2" stroke="#6a6a6a" stroke-width="1"/>
<text x="25.1" y="343.4" font-size="8.7" textLength="4.20" lengthAdjust="spacingAndGlyphs" fill="#333" style="color:#333">2</text>
<line x1="30.6" y1="321.6" x2="33.1" y2="321.6" stroke="#6a6a6a" stroke-width="1"/>
<text x="25.1" y="324.8" font-size="8.7" textLength="4.20" lengthAdjust="spacingAndGlyphs" fill="#333" style="color:#333">4</text>
<line x1="30.6" y1="303.1" x2="33.1" y2="303.1" stroke="#6a6a6a" stroke-width="1"/>
<text x="25.1" y="306.3" font-size="8.7" textLength="4.20" lengthAdjust="spacingAndGlyphs" fill="#333" style="color:#333">6</text>
<line x1="30.6" y1="284.5" x2="33.1" y2="284.5" stroke="#6a6a6a" stroke-width="1"/>
<text x="25.1" y="287.7" font-size="8.7" textLength="4.20" lengthAdjust="spacingAndGlyphs" fill="#333" style="color:#333">8</text>
<line x1="30.6" y1="266.0" x2="33.1" y2="266.0" stroke="#6a6a6a" stroke-width="1"/>
<text x="20.9" y="269.2" font-size="8.7" textLength="8.40" lengthAdjust="spacingAndGlyphs" fill="#333" style="color:#333">10</text>
<line x1="30.6" y1="247.5" x2="33.1" y2="247.5" stroke="#6a6a6a" stroke-width="1"/>
<text x="20.9" y="250.7" font-size="8.7" textLength="8.40" lengthAdjust="spacingAndGlyphs" fill="#333" style="color:#333">12</text>
<line x1="30.6" y1="228.9" x2="33.1" y2="228.9" stroke="#6a6a6a" stroke-width="1"/>
<text x="20.9" y="232.1" font-size="8.7" textLength="8.40" lengthAdjust="spacingAndGlyphs" fill="#333" style="color:#333">14</text>
<line x1="66.8" y1="358.7" x2="66.8" y2="360.7" stroke="#6a6a6a" stroke-width="1"/>
<text x="63.5" y="374.5" font-size="11.3" textLength="17" lengthAdjust="spacingAndGlyphs" fill="#222">PNI</text>
<line x1="139.5" y1="358.7" x2="139.5" y2="360.7" stroke="#6a6a6a" stroke-width="1"/>
<text x="125.5" y="374.5" font-size="11.3" textLength="41" lengthAdjust="spacingAndGlyphs" fill="#222">non-PNI</text>
<text transform="translate(19.1,286.7) rotate(-90)" x="-61.1" y="0" font-size="11.2" textLength="122.2" lengthAdjust="spacingAndGlyphs" fill="#222">MME mRNA expression</text>
<text class="t" x="50.4" y="206.4" font-size="10.6" fill="#222" textLength="93.7" lengthAdjust="spacingAndGlyphs"><tspan font-style="italic">q</tspan>-Value: 4.50 × 10</text>
<text class="t" x="145.4" y="202.5" font-size="7.8" textLength="8.5" lengthAdjust="spacingAndGlyphs" fill="#222">−2</text>
<line x1="209.5" y1="340.8" x2="346.5" y2="340.8" stroke="#f2f2f2" stroke-width="0.8" stroke-dasharray="3,2"/>
<line x1="209.5" y1="322.3" x2="346.5" y2="322.3" stroke="#f2f2f2" stroke-width="0.8" stroke-dasharray="3,2"/>
<line x1="209.5" y1="303.9" x2="346.5" y2="303.9" stroke="#f2f2f2" stroke-width="0.8" stroke-dasharray="3,2"/>
<line x1="209.5" y1="285.4" x2="346.5" y2="285.4" stroke="#f2f2f2" stroke-width="0.8" stroke-dasharray="3,2"/>
<line x1="209.5" y1="266.9" x2="346.5" y2="266.9" stroke="#f2f2f2" stroke-width="0.8" stroke-dasharray="3,2"/>
<line x1="209.5" y1="248.4" x2="346.5" y2="248.4" stroke="#f2f2f2" stroke-width="0.8" stroke-dasharray="3,2"/>
<line x1="209.5" y1="229.9" x2="346.5" y2="229.9" stroke="#f2f2f2" stroke-width="0.8" stroke-dasharray="3,2"/>
<line x1="241.2" y1="215.5" x2="241.2" y2="359.3" stroke="#f2f2f2" stroke-width="0.8" stroke-dasharray="3,2"/>
<line x1="314.1" y1="215.5" x2="314.1" y2="359.3" stroke="#f2f2f2" stroke-width="0.8" stroke-dasharray="3,2"/>
<rect x="221.2" y="271.4" width="39.9" height="18.6" fill="#ededed"/>
<line x1="241.2" y1="242.7" x2="241.2" y2="319.8" stroke="#b0b0b0" stroke-width="0.8"/>
<line x1="221.2" y1="242.7" x2="261.1" y2="242.7" stroke="#ababab" stroke-width="1"/>
<line x1="221.2" y1="319.8" x2="261.1" y2="319.8" stroke="#ababab" stroke-width="1"/>
<line x1="221.2" y1="280.9" x2="261.1" y2="280.9" stroke="#ababab" stroke-width="1"/>
<rect x="294.5" y="280.5" width="39.2" height="19.6" fill="#ededed"/>
<line x1="314.1" y1="266.6" x2="314.1" y2="316.4" stroke="#b0b0b0" stroke-width="0.8"/>
<line x1="294.5" y1="266.6" x2="333.7" y2="266.6" stroke="#ababab" stroke-width="1"/>
<line x1="294.5" y1="316.4" x2="333.7" y2="316.4" stroke="#ababab" stroke-width="1"/>
<line x1="294.5" y1="290.6" x2="333.7" y2="290.6" stroke="#ababab" stroke-width="1"/>
<g fill="#06a3ea">
<path d="M230.5,256.0 L230.5,300.0 L232.0,306.6 L248.4,306.6 L252.3,300.0 L252.3,256.0Z"/>
<circle cx="232.6" cy="256.4" r="2"/>
<circle cx="232.9" cy="257.9" r="2"/>
<circle cx="232.5" cy="262.2" r="2"/>
<circle cx="232.9" cy="264.7" r="2"/>
<circle cx="232.3" cy="266.4" r="2"/>
<circle cx="232.9" cy="269.8" r="2"/>
<circle cx="232.9" cy="273.0" r="2"/>
<circle cx="233.0" cy="275.4" r="2"/>
<circle cx="232.6" cy="278.3" r="2"/>
<circle cx="231.5" cy="280.3" r="2"/>
<circle cx="232.0" cy="282.8" r="2"/>
<circle cx="232.9" cy="285.5" r="2"/>
<circle cx="232.5" cy="289.1" r="2"/>
<circle cx="232.6" cy="292.0" r="2"/>
<circle cx="231.4" cy="294.5" r="2"/>
<circle cx="232.7" cy="297.8" r="2"/>
<circle cx="232.4" cy="300.0" r="2"/>
<circle cx="232.3" cy="303.6" r="2"/>
<circle cx="250.1" cy="256.4" r="2"/>
<circle cx="250.1" cy="258.0" r="2"/>
<circle cx="250.0" cy="261.9" r="2"/>
<circle cx="251.4" cy="264.7" r="2"/>
<circle cx="250.3" cy="267.0" r="2"/>
<circle cx="250.8" cy="269.7" r="2"/>
<circle cx="250.7" cy="273.0" r="2"/>
<circle cx="249.7" cy="275.5" r="2"/>
<circle cx="250.1" cy="277.4" r="2"/>
<circle cx="250.1" cy="281.2" r="2"/>
<circle cx="249.6" cy="283.6" r="2"/>
<circle cx="250.1" cy="285.5" r="2"/>
<circle cx="250.8" cy="289.3" r="2"/>
<circle cx="250.1" cy="292.1" r="2"/>
<circle cx="250.4" cy="294.5" r="2"/>
<circle cx="249.8" cy="297.2" r="2"/>
<circle cx="250.0" cy="300.7" r="2"/>
<circle cx="249.3" cy="304.2" r="2"/>
<circle cx="229.6" cy="257.7" r="2"/>
<circle cx="233.8" cy="258.6" r="2"/>
<circle cx="235.9" cy="257.4" r="2"/>
<circle cx="238.2" cy="258.6" r="2"/>
<circle cx="240.9" cy="257.9" r="2"/>
<circle cx="243.5" cy="257.8" r="2"/>
<circle cx="247.7" cy="257.1" r="2"/>
<circle cx="250.2" cy="257.8" r="2"/>
<circle cx="253.0" cy="258.2" r="2"/>
<circle cx="231.5" cy="305.5" r="2"/>
<circle cx="234.7" cy="303.9" r="2"/>
<circle cx="236.6" cy="304.8" r="2"/>
<circle cx="240.1" cy="304.4" r="2"/>
<circle cx="242.3" cy="304.5" r="2"/>
<circle cx="245.3" cy="305.4" r="2"/>
<circle cx="247.5" cy="305.3" r="2"/>
<circle cx="240.6" cy="222.0" r="2.4"/>
<circle cx="247.6" cy="229.8" r="2.4"/>
<circle cx="248.4" cy="228.2" r="2.4"/>
<circle cx="232.1" cy="242.6" r="2.4"/>
<circle cx="235.2" cy="245.3" r="2.4"/>
<circle cx="239.1" cy="240.6" r="2.4"/>
<circle cx="243.0" cy="243.7" r="2.4"/>
<circle cx="244.5" cy="247.6" r="2.4"/>
<circle cx="233.6" cy="252.3" r="2.4"/>
<circle cx="236.7" cy="253.8" r="2.4"/>
<circle cx="250.7" cy="253.0" r="2.4"/>
<circle cx="239.1" cy="312.8" r="2.4"/>
<circle cx="242.2" cy="314.4" r="2.4"/>
<circle cx="238.3" cy="317.5" r="2.4"/>
<circle cx="233.6" cy="321.4" r="2.4"/>
<circle cx="248.4" cy="319.0" r="2.4"/>
<circle cx="248.4" cy="322.1" r="2.4"/>
<circle cx="239.1" cy="325.2" r="2.4"/>
<circle cx="238.3" cy="330.7" r="2.4"/>
<circle cx="236.0" cy="309.0" r="2.4"/>
<circle cx="245.0" cy="309.0" r="2.4"/>
</g>
<g fill="#06a3ea">
<circle cx="310.5" cy="266.6" r="2.4"/>
<circle cx="310.1" cy="268.9" r="2.4"/>
<circle cx="317.1" cy="267.8" r="2.4"/>
<circle cx="312.5" cy="272.8" r="2.4"/>
<circle cx="314.0" cy="274.0" r="2.4"/>
<circle cx="305.9" cy="278.3" r="2.4"/>
<circle cx="305.5" cy="280.6" r="2.4"/>
<circle cx="305.5" cy="283.7" r="2.4"/>
<circle cx="310.5" cy="279.0" r="2.4"/>
<circle cx="313.6" cy="279.0" r="2.4"/>
<circle cx="312.5" cy="282.5" r="2.4"/>
<circle cx="314.4" cy="284.9" r="2.4"/>
<circle cx="322.2" cy="277.1" r="2.4"/>
<circle cx="319.5" cy="279.4" r="2.4"/>
<circle cx="306.3" cy="289.9" r="2.4"/>
<circle cx="305.9" cy="293.0" r="2.4"/>
<circle cx="308.6" cy="289.5" r="2.4"/>
<circle cx="311.3" cy="291.1" r="2.4"/>
<circle cx="315.2" cy="288.7" r="2.4"/>
<circle cx="318.3" cy="290.3" r="2.4"/>
<circle cx="320.6" cy="291.8" r="2.4"/>
<circle cx="313.6" cy="292.6" r="2.4"/>
<circle cx="317.1" cy="294.2" r="2.4"/>
<circle cx="319.5" cy="295.7" r="2.4"/>
<circle cx="316.0" cy="296.5" r="2.4"/>
<circle cx="305.1" cy="298.1" r="2.4"/>
<circle cx="305.1" cy="300.4" r="2.4"/>
<circle cx="310.1" cy="300.4" r="2.4"/>
<circle cx="312.9" cy="301.6" r="2.4"/>
<circle cx="316.4" cy="302.3" r="2.4"/>
<circle cx="322.6" cy="303.5" r="2.4"/>
<circle cx="323.7" cy="305.0" r="2.4"/>
<circle cx="305.9" cy="306.6" r="2.4"/>
<circle cx="304.3" cy="307.8" r="2.4"/>
<circle cx="314.4" cy="313.6" r="2.4"/>
<circle cx="306.3" cy="316.3" r="2.4"/>
</g>
<path d="M208.5,215.5 L208.5,359.3 L346.5,359.3" fill="none" stroke="#6a6a6a" stroke-width="1.1"/>
<line x1="206.0" y1="359.3" x2="208.5" y2="359.3" stroke="#6a6a6a" stroke-width="1"/>
<text x="200.5" y="362.5" font-size="8.7" textLength="4.20" lengthAdjust="spacingAndGlyphs" fill="#333" style="color:#333">0</text>
<line x1="206.0" y1="340.8" x2="208.5" y2="340.8" stroke="#6a6a6a" stroke-width="1"/>
<text x="200.5" y="344.0" font-size="8.7" textLength="4.20" lengthAdjust="spacingAndGlyphs" fill="#333" style="color:#333">2</text>
<line x1="206.0" y1="322.3" x2="208.5" y2="322.3" stroke="#6a6a6a" stroke-width="1"/>
<text x="200.5" y="325.5" font-size="8.7" textLength="4.20" lengthAdjust="spacingAndGlyphs" fill="#333" style="color:#333">4</text>
<line x1="206.0" y1="303.9" x2="208.5" y2="303.9" stroke="#6a6a6a" stroke-width="1"/>
<text x="200.5" y="307.1" font-size="8.7" textLength="4.20" lengthAdjust="spacingAndGlyphs" fill="#333" style="color:#333">6</text>
<line x1="206.0" y1="285.4" x2="208.5" y2="285.4" stroke="#6a6a6a" stroke-width="1"/>
<text x="200.5" y="288.6" font-size="8.7" textLength="4.20" lengthAdjust="spacingAndGlyphs" fill="#333" style="color:#333">8</text>
<line x1="206.0" y1="266.9" x2="208.5" y2="266.9" stroke="#6a6a6a" stroke-width="1"/>
<text x="196.3" y="270.1" font-size="8.7" textLength="8.40" lengthAdjust="spacingAndGlyphs" fill="#333" style="color:#333">10</text>
<line x1="206.0" y1="248.4" x2="208.5" y2="248.4" stroke="#6a6a6a" stroke-width="1"/>
<text x="196.3" y="251.6" font-size="8.7" textLength="8.40" lengthAdjust="spacingAndGlyphs" fill="#333" style="color:#333">12</text>
<line x1="206.0" y1="229.9" x2="208.5" y2="229.9" stroke="#6a6a6a" stroke-width="1"/>
<text x="196.3" y="233.1" font-size="8.7" textLength="8.40" lengthAdjust="spacingAndGlyphs" fill="#333" style="color:#333">14</text>
<line x1="241.2" y1="359.3" x2="241.2" y2="361.3" stroke="#6a6a6a" stroke-width="1"/>
<text x="232.3" y="374.5" font-size="11.3" textLength="17" lengthAdjust="spacingAndGlyphs" fill="#222">PNI</text>
<line x1="314.1" y1="359.3" x2="314.1" y2="361.3" stroke="#6a6a6a" stroke-width="1"/>
<text x="294.7" y="374.5" font-size="11.3" textLength="41" lengthAdjust="spacingAndGlyphs" fill="#222">non-PNI</text>
<text transform="translate(192.4,289.3) rotate(-90)" x="-63.6" y="0" font-size="11.2" textLength="127.3" lengthAdjust="spacingAndGlyphs" fill="#222">MUC1 mRNA expression</text>
<text class="t" x="228.3" y="206.9" font-size="10.6" fill="#222" textLength="100.7" lengthAdjust="spacingAndGlyphs"><tspan font-style="italic">q</tspan>-Value: 4.865 × 10</text>
<text class="t" x="330.3" y="203.0" font-size="7.8" textLength="8.5" lengthAdjust="spacingAndGlyphs" fill="#222">−3</text>
<line x1="392.5" y1="335.3" x2="529.7" y2="335.3" stroke="#f2f2f2" stroke-width="0.8" stroke-dasharray="3,2"/>
<line x1="392.5" y1="312.1" x2="529.7" y2="312.1" stroke="#f2f2f2" stroke-width="0.8" stroke-dasharray="3,2"/>
<line x1="392.5" y1="288.9" x2="529.7" y2="288.9" stroke="#f2f2f2" stroke-width="0.8" stroke-dasharray="3,2"/>
<line x1="392.5" y1="265.7" x2="529.7" y2="265.7" stroke="#f2f2f2" stroke-width="0.8" stroke-dasharray="3,2"/>
<line x1="392.5" y1="242.5" x2="529.7" y2="242.5" stroke="#f2f2f2" stroke-width="0.8" stroke-dasharray="3,2"/>
<line x1="392.5" y1="219.3" x2="529.7" y2="219.3" stroke="#f2f2f2" stroke-width="0.8" stroke-dasharray="3,2"/>
<line x1="424.5" y1="215.5" x2="424.5" y2="358.5" stroke="#f2f2f2" stroke-width="0.8" stroke-dasharray="3,2"/>
<line x1="497.3" y1="215.5" x2="497.3" y2="358.5" stroke="#f2f2f2" stroke-width="0.8" stroke-dasharray="3,2"/>
<rect x="404.5" y="293.8" width="39.2" height="37.8" fill="#ededed"/>
<line x1="424.5" y1="234.0" x2="424.5" y2="357.0" stroke="#b0b0b0" stroke-width="0.8"/>
<line x1="404.5" y1="234.0" x2="443.7" y2="234.0" stroke="#ababab" stroke-width="1"/>
<line x1="404.5" y1="357.0" x2="443.7" y2="357.0" stroke="#ababab" stroke-width="1"/>
<line x1="404.5" y1="312.7" x2="443.7" y2="312.7" stroke="#ababab" stroke-width="1"/>
<rect x="477.4" y="314.4" width="39.2" height="24.7" fill="#ededed"/>
<line x1="497.3" y1="281.2" x2="497.3" y2="353.9" stroke="#b0b0b0" stroke-width="0.8"/>
<line x1="477.4" y1="281.2" x2="516.6" y2="281.2" stroke="#ababab" stroke-width="1"/>
<line x1="477.4" y1="353.9" x2="516.6" y2="353.9" stroke="#ababab" stroke-width="1"/>
<line x1="477.4" y1="328.5" x2="516.6" y2="328.5" stroke="#ababab" stroke-width="1"/>
<g fill="#06a3ea">
<path d="M414.6,271.0 L413.2,290.0 L413.2,356.0 L435.7,356.0 L435.7,290.0 L435.0,271.0Z"/>
<circle cx="415.7" cy="271.6" r="2"/>
<circle cx="416.6" cy="274.5" r="2"/>
<circle cx="415.6" cy="277.2" r="2"/>
<circle cx="415.6" cy="278.9" r="2"/>
<circle cx="415.8" cy="282.8" r="2"/>
<circle cx="415.3" cy="284.3" r="2"/>
<circle cx="414.4" cy="286.9" r="2"/>
<circle cx="415.6" cy="289.3" r="2"/>
<circle cx="415.8" cy="292.3" r="2"/>
<circle cx="414.6" cy="294.8" r="2"/>
<circle cx="414.4" cy="297.9" r="2"/>
<circle cx="415.8" cy="300.3" r="2"/>
<circle cx="415.6" cy="303.9" r="2"/>
<circle cx="415.7" cy="306.1" r="2"/>
<circle cx="415.1" cy="309.3" r="2"/>
<circle cx="414.2" cy="311.5" r="2"/>
<circle cx="414.9" cy="314.2" r="2"/>
<circle cx="415.3" cy="316.9" r="2"/>
<circle cx="414.2" cy="318.7" r="2"/>
<circle cx="414.3" cy="322.4" r="2"/>
<circle cx="414.7" cy="324.3" r="2"/>
<circle cx="415.4" cy="326.6" r="2"/>
<circle cx="414.6" cy="330.5" r="2"/>
<circle cx="414.6" cy="332.5" r="2"/>
<circle cx="414.8" cy="335.0" r="2"/>
<circle cx="414.4" cy="336.9" r="2"/>
<circle cx="415.7" cy="339.6" r="2"/>
<circle cx="414.5" cy="342.8" r="2"/>
<circle cx="415.9" cy="346.2" r="2"/>
<circle cx="414.4" cy="348.0" r="2"/>
<circle cx="414.3" cy="350.2" r="2"/>
<circle cx="414.3" cy="353.1" r="2"/>
<circle cx="432.8" cy="270.5" r="2"/>
<circle cx="434.0" cy="273.8" r="2"/>
<circle cx="433.2" cy="276.9" r="2"/>
<circle cx="433.5" cy="279.0" r="2"/>
<circle cx="433.3" cy="281.6" r="2"/>
<circle cx="433.3" cy="283.8" r="2"/>
<circle cx="433.1" cy="288.1" r="2"/>
<circle cx="434.1" cy="290.0" r="2"/>
<circle cx="433.4" cy="293.3" r="2"/>
<circle cx="433.4" cy="294.9" r="2"/>
<circle cx="433.8" cy="297.7" r="2"/>
<circle cx="434.5" cy="301.4" r="2"/>
<circle cx="433.0" cy="303.9" r="2"/>
<circle cx="434.3" cy="305.0" r="2"/>
<circle cx="433.9" cy="309.2" r="2"/>
<circle cx="433.0" cy="311.3" r="2"/>
<circle cx="434.7" cy="313.6" r="2"/>
<circle cx="434.5" cy="317.0" r="2"/>
<circle cx="433.4" cy="319.9" r="2"/>
<circle cx="433.3" cy="321.0" r="2"/>
<circle cx="434.2" cy="324.4" r="2"/>
<circle cx="434.3" cy="327.8" r="2"/>
<circle cx="434.4" cy="329.9" r="2"/>
<circle cx="434.0" cy="332.2" r="2"/>
<circle cx="434.4" cy="334.1" r="2"/>
<circle cx="434.7" cy="337.0" r="2"/>
<circle cx="433.5" cy="340.4" r="2"/>
<circle cx="433.5" cy="342.1" r="2"/>
<circle cx="434.3" cy="345.7" r="2"/>
<circle cx="433.1" cy="347.4" r="2"/>
<circle cx="434.0" cy="350.8" r="2"/>
<circle cx="433.4" cy="353.2" r="2"/>
<circle cx="414.8" cy="271.9" r="2"/>
<circle cx="417.2" cy="272.7" r="2"/>
<circle cx="421.3" cy="273.1" r="2"/>
<circle cx="424.0" cy="272.8" r="2"/>
<circle cx="425.8" cy="272.3" r="2"/>
<circle cx="430.0" cy="273.2" r="2"/>
<circle cx="431.7" cy="271.9" r="2"/>
<circle cx="435.0" cy="273.1" r="2"/>
<circle cx="413.1" cy="353.8" r="2"/>
<circle cx="416.3" cy="355.0" r="2"/>
<circle cx="418.3" cy="353.4" r="2"/>
<circle cx="421.3" cy="354.1" r="2"/>
<circle cx="424.8" cy="353.7" r="2"/>
<circle cx="427.8" cy="354.6" r="2"/>
<circle cx="430.1" cy="353.7" r="2"/>
<circle cx="433.7" cy="353.9" r="2"/>
<circle cx="436.3" cy="353.7" r="2"/>
<circle cx="415.7" cy="221.2" r="2.4"/>
<circle cx="433.1" cy="230.4" r="2.4"/>
<circle cx="418.3" cy="235.9" r="2.4"/>
<circle cx="421.9" cy="234.0" r="2.4"/>
<circle cx="424.8" cy="233.3" r="2.4"/>
<circle cx="429.9" cy="238.4" r="2.4"/>
<circle cx="426.3" cy="241.3" r="2.4"/>
<circle cx="432.5" cy="244.6" r="2.4"/>
<circle cx="415.4" cy="244.9" r="2.4"/>
<circle cx="419.0" cy="245.6" r="2.4"/>
<circle cx="425.5" cy="247.1" r="2.4"/>
<circle cx="416.8" cy="258.0" r="2.4"/>
<circle cx="424.1" cy="256.5" r="2.4"/>
<circle cx="425.5" cy="260.2" r="2.4"/>
<circle cx="416.1" cy="260.9" r="2.4"/>
<circle cx="431.4" cy="262.4" r="2.4"/>
<circle cx="418.3" cy="265.3" r="2.4"/>
<circle cx="421.9" cy="265.3" r="2.4"/>
<circle cx="429.9" cy="266.7" r="2.4"/>
<circle cx="416.0" cy="268.5" r="2.4"/>
<circle cx="421.0" cy="270.0" r="2.4"/>
<circle cx="428.0" cy="269.5" r="2.4"/>
<circle cx="433.0" cy="271.0" r="2.4"/>
<circle cx="414.5" cy="272.5" r="2.4"/>
<circle cx="424.5" cy="272.0" r="2.4"/>
</g>
<g fill="#06a3ea">
<circle cx="488.3" cy="281.1" r="2.4"/>
<circle cx="497.6" cy="290.4" r="2.4"/>
<circle cx="499.3" cy="292.6" r="2.4"/>
<circle cx="499.8" cy="290.4" r="2.4"/>
<circle cx="488.3" cy="300.9" r="2.4"/>
<circle cx="493.8" cy="304.2" r="2.4"/>
<circle cx="500.4" cy="299.8" r="2.4"/>
<circle cx="503.7" cy="302.0" r="2.4"/>
<circle cx="505.3" cy="301.4" r="2.4"/>
<circle cx="498.7" cy="311.9" r="2.4"/>
<circle cx="487.7" cy="313.5" r="2.4"/>
<circle cx="491.6" cy="317.4" r="2.4"/>
<circle cx="494.3" cy="317.4" r="2.4"/>
<circle cx="499.3" cy="317.9" r="2.4"/>
<circle cx="496.5" cy="323.4" r="2.4"/>
<circle cx="503.7" cy="325.1" r="2.4"/>
<circle cx="493.2" cy="326.2" r="2.4"/>
<circle cx="488.3" cy="328.9" r="2.4"/>
<circle cx="497.6" cy="329.5" r="2.4"/>
<circle cx="498.7" cy="330.0" r="2.4"/>
<circle cx="505.3" cy="331.1" r="2.4"/>
<circle cx="488.3" cy="332.8" r="2.4"/>
<circle cx="506.4" cy="335.0" r="2.4"/>
<circle cx="488.8" cy="337.2" r="2.4"/>
<circle cx="494.3" cy="341.0" r="2.4"/>
<circle cx="502.0" cy="339.9" r="2.4"/>
<circle cx="501.5" cy="342.1" r="2.4"/>
<circle cx="489.4" cy="343.8" r="2.4"/>
<circle cx="502.6" cy="347.1" r="2.4"/>
<circle cx="495.4" cy="349.3" r="2.4"/>
<circle cx="497.6" cy="351.5" r="2.4"/>
<circle cx="489.4" cy="351.5" r="2.4"/>
<circle cx="497.6" cy="353.7" r="2.4"/>
</g>
<path d="M391.5,215.5 L391.5,358.5 L529.7,358.5" fill="none" stroke="#6a6a6a" stroke-width="1.1"/>
<line x1="389.0" y1="358.5" x2="391.5" y2="358.5" stroke="#6a6a6a" stroke-width="1"/>
<text x="383.5" y="361.7" font-size="8.7" textLength="4.20" lengthAdjust="spacingAndGlyphs" fill="#333" style="color:#333">0</text>
<line x1="389.0" y1="335.3" x2="391.5" y2="335.3" stroke="#6a6a6a" stroke-width="1"/>
<text x="383.5" y="338.5" font-size="8.7" textLength="4.20" lengthAdjust="spacingAndGlyphs" fill="#333" style="color:#333">2</text>
<line x1="389.0" y1="312.1" x2="391.5" y2="312.1" stroke="#6a6a6a" stroke-width="1"/>
<text x="383.5" y="315.3" font-size="8.7" textLength="4.20" lengthAdjust="spacingAndGlyphs" fill="#333" style="color:#333">4</text>
<line x1="389.0" y1="288.9" x2="391.5" y2="288.9" stroke="#6a6a6a" stroke-width="1"/>
<text x="383.5" y="292.1" font-size="8.7" textLength="4.20" lengthAdjust="spacingAndGlyphs" fill="#333" style="color:#333">6</text>
<line x1="389.0" y1="265.7" x2="391.5" y2="265.7" stroke="#6a6a6a" stroke-width="1"/>
<text x="383.5" y="268.9" font-size="8.7" textLength="4.20" lengthAdjust="spacingAndGlyphs" fill="#333" style="color:#333">8</text>
<line x1="389.0" y1="242.5" x2="391.5" y2="242.5" stroke="#6a6a6a" stroke-width="1"/>
<text x="379.3" y="245.7" font-size="8.7" textLength="8.40" lengthAdjust="spacingAndGlyphs" fill="#333" style="color:#333">10</text>
<line x1="389.0" y1="219.3" x2="391.5" y2="219.3" stroke="#6a6a6a" stroke-width="1"/>
<text x="379.3" y="222.5" font-size="8.7" textLength="8.40" lengthAdjust="spacingAndGlyphs" fill="#333" style="color:#333">12</text>
<line x1="424.5" y1="358.5" x2="424.5" y2="360.5" stroke="#6a6a6a" stroke-width="1"/>
<text x="415.8" y="376.5" font-size="11.3" textLength="17" lengthAdjust="spacingAndGlyphs" fill="#222">PNI</text>
<line x1="497.3" y1="358.5" x2="497.3" y2="360.5" stroke="#6a6a6a" stroke-width="1"/>
<text x="478.4" y="376.5" font-size="11.3" textLength="41" lengthAdjust="spacingAndGlyphs" fill="#222">non-PNI</text>
<text transform="translate(376.9,286.7) rotate(-90)" x="-54.7" y="0" font-size="11.2" textLength="109.4" lengthAdjust="spacingAndGlyphs" fill="#222">PIP mRNA expression</text>
<text class="t" x="409.8" y="206.9" font-size="10.6" fill="#222" textLength="100.7" lengthAdjust="spacingAndGlyphs"><tspan font-style="italic">q</tspan>-Value: 8.321 × 10</text>
<text class="t" x="511.8" y="203.0" font-size="7.8" textLength="8.5" lengthAdjust="spacingAndGlyphs" fill="#222">−3</text>
<line x1="38.4" y1="529.6" x2="176.2" y2="529.6" stroke="#f2f2f2" stroke-width="0.8" stroke-dasharray="3,2"/>
<line x1="38.4" y1="510.7" x2="176.2" y2="510.7" stroke="#f2f2f2" stroke-width="0.8" stroke-dasharray="3,2"/>
<line x1="38.4" y1="491.8" x2="176.2" y2="491.8" stroke="#f2f2f2" stroke-width="0.8" stroke-dasharray="3,2"/>
<line x1="38.4" y1="472.8" x2="176.2" y2="472.8" stroke="#f2f2f2" stroke-width="0.8" stroke-dasharray="3,2"/>
<line x1="38.4" y1="453.9" x2="176.2" y2="453.9" stroke="#f2f2f2" stroke-width="0.8" stroke-dasharray="3,2"/>
<line x1="38.4" y1="435.0" x2="176.2" y2="435.0" stroke="#f2f2f2" stroke-width="0.8" stroke-dasharray="3,2"/>
<line x1="38.4" y1="416.1" x2="176.2" y2="416.1" stroke="#f2f2f2" stroke-width="0.8" stroke-dasharray="3,2"/>
<line x1="69.8" y1="404.2" x2="69.8" y2="548.5" stroke="#f2f2f2" stroke-width="0.8" stroke-dasharray="3,2"/>
<line x1="142.7" y1="404.2" x2="142.7" y2="548.5" stroke="#f2f2f2" stroke-width="0.8" stroke-dasharray="3,2"/>
<rect x="50.1" y="444.1" width="39.5" height="18.6" fill="#ededed"/>
<line x1="69.8" y1="413.9" x2="69.8" y2="492.0" stroke="#b0b0b0" stroke-width="0.8"/>
<line x1="50.1" y1="413.9" x2="89.6" y2="413.9" stroke="#ababab" stroke-width="1"/>
<line x1="50.1" y1="492.0" x2="89.6" y2="492.0" stroke="#ababab" stroke-width="1"/>
<line x1="50.1" y1="453.0" x2="89.6" y2="453.0" stroke="#ababab" stroke-width="1"/>
<rect x="123.1" y="450.7" width="39.3" height="20.1" fill="#ededed"/>
<line x1="142.7" y1="419.9" x2="142.7" y2="492.9" stroke="#b0b0b0" stroke-width="0.8"/>
<line x1="123.1" y1="419.9" x2="162.4" y2="419.9" stroke="#ababab" stroke-width="1"/>
<line x1="123.1" y1="492.9" x2="162.4" y2="492.9" stroke="#ababab" stroke-width="1"/>
<line x1="123.1" y1="464.5" x2="162.4" y2="464.5" stroke="#ababab" stroke-width="1"/>
<g fill="#06a3ea">
<path d="M59.5,428.0 L59.2,432.0 L59.2,476.0 L60.6,481.0 L79.9,481.0 L80.6,476.0 L80.6,432.0 L80.0,428.0Z"/>
<circle cx="61.8" cy="427.5" r="2"/>
<circle cx="61.8" cy="431.6" r="2"/>
<circle cx="60.4" cy="434.7" r="2"/>
<circle cx="60.9" cy="437.0" r="2"/>
<circle cx="61.8" cy="440.5" r="2"/>
<circle cx="60.8" cy="442.4" r="2"/>
<circle cx="61.9" cy="445.2" r="2"/>
<circle cx="60.2" cy="447.9" r="2"/>
<circle cx="60.8" cy="450.5" r="2"/>
<circle cx="61.7" cy="454.7" r="2"/>
<circle cx="61.9" cy="457.2" r="2"/>
<circle cx="60.7" cy="460.3" r="2"/>
<circle cx="61.8" cy="461.7" r="2"/>
<circle cx="60.2" cy="465.4" r="2"/>
<circle cx="60.8" cy="468.0" r="2"/>
<circle cx="60.7" cy="470.3" r="2"/>
<circle cx="60.1" cy="472.7" r="2"/>
<circle cx="60.7" cy="475.6" r="2"/>
<circle cx="77.5" cy="428.8" r="2"/>
<circle cx="78.3" cy="432.8" r="2"/>
<circle cx="79.4" cy="434.5" r="2"/>
<circle cx="78.7" cy="438.1" r="2"/>
<circle cx="78.8" cy="439.4" r="2"/>
<circle cx="79.6" cy="442.8" r="2"/>
<circle cx="78.6" cy="445.2" r="2"/>
<circle cx="78.0" cy="449.2" r="2"/>
<circle cx="79.4" cy="451.1" r="2"/>
<circle cx="78.0" cy="454.5" r="2"/>
<circle cx="78.0" cy="455.9" r="2"/>
<circle cx="78.4" cy="460.3" r="2"/>
<circle cx="79.5" cy="462.7" r="2"/>
<circle cx="78.4" cy="464.7" r="2"/>
<circle cx="79.0" cy="468.6" r="2"/>
<circle cx="79.2" cy="470.1" r="2"/>
<circle cx="78.4" cy="472.9" r="2"/>
<circle cx="79.3" cy="475.1" r="2"/>
<circle cx="60.2" cy="430.0" r="2"/>
<circle cx="63.2" cy="428.9" r="2"/>
<circle cx="64.9" cy="429.8" r="2"/>
<circle cx="69.1" cy="430.6" r="2"/>
<circle cx="71.0" cy="429.4" r="2"/>
<circle cx="74.0" cy="429.8" r="2"/>
<circle cx="77.8" cy="429.2" r="2"/>
<circle cx="80.5" cy="430.2" r="2"/>
<circle cx="61.2" cy="479.7" r="2"/>
<circle cx="63.6" cy="478.9" r="2"/>
<circle cx="65.8" cy="479.0" r="2"/>
<circle cx="69.4" cy="478.4" r="2"/>
<circle cx="71.1" cy="479.7" r="2"/>
<circle cx="73.9" cy="478.4" r="2"/>
<circle cx="76.3" cy="479.3" r="2"/>
<circle cx="79.6" cy="480.1" r="2"/>
<circle cx="63.2" cy="410.7" r="2.4"/>
<circle cx="67.8" cy="417.8" r="2.4"/>
<circle cx="74.2" cy="414.9" r="2.4"/>
<circle cx="75.6" cy="419.2" r="2.4"/>
<circle cx="60.6" cy="422.0" r="2.4"/>
<circle cx="64.2" cy="422.8" r="2.4"/>
<circle cx="70.6" cy="424.2" r="2.4"/>
<circle cx="77.7" cy="425.6" r="2.4"/>
<circle cx="62.0" cy="425.0" r="2.4"/>
<circle cx="73.0" cy="426.0" r="2.4"/>
<circle cx="67.8" cy="485.3" r="2.4"/>
<circle cx="68.5" cy="488.2" r="2.4"/>
<circle cx="74.2" cy="484.6" r="2.4"/>
<circle cx="69.2" cy="497.4" r="2.4"/>
<circle cx="67.8" cy="500.3" r="2.4"/>
</g>
<g fill="#06a3ea">
<circle cx="134.9" cy="420.0" r="2.4"/>
<circle cx="151.4" cy="430.4" r="2.4"/>
<circle cx="138.8" cy="433.2" r="2.4"/>
<circle cx="145.4" cy="434.8" r="2.4"/>
<circle cx="141.0" cy="438.7" r="2.4"/>
<circle cx="142.6" cy="442.0" r="2.4"/>
<circle cx="143.7" cy="445.3" r="2.4"/>
<circle cx="144.3" cy="448.0" r="2.4"/>
<circle cx="133.8" cy="450.2" r="2.4"/>
<circle cx="137.1" cy="450.2" r="2.4"/>
<circle cx="149.8" cy="449.1" r="2.4"/>
<circle cx="145.4" cy="456.3" r="2.4"/>
<circle cx="147.6" cy="456.8" r="2.4"/>
<circle cx="133.8" cy="460.1" r="2.4"/>
<circle cx="139.9" cy="461.2" r="2.4"/>
<circle cx="143.2" cy="460.1" r="2.4"/>
<circle cx="147.6" cy="462.3" r="2.4"/>
<circle cx="134.4" cy="463.4" r="2.4"/>
<circle cx="140.4" cy="464.5" r="2.4"/>
<circle cx="144.8" cy="464.5" r="2.4"/>
<circle cx="148.1" cy="464.5" r="2.4"/>
<circle cx="134.4" cy="466.7" r="2.4"/>
<circle cx="138.8" cy="467.8" r="2.4"/>
<circle cx="143.2" cy="467.3" r="2.4"/>
<circle cx="145.9" cy="468.9" r="2.4"/>
<circle cx="138.8" cy="470.6" r="2.4"/>
<circle cx="142.6" cy="471.1" r="2.4"/>
<circle cx="148.7" cy="470.6" r="2.4"/>
<circle cx="143.7" cy="473.3" r="2.4"/>
<circle cx="145.4" cy="476.1" r="2.4"/>
<circle cx="148.1" cy="476.1" r="2.4"/>
<circle cx="133.8" cy="475.0" r="2.4"/>
<circle cx="133.3" cy="477.7" r="2.4"/>
<circle cx="134.9" cy="481.6" r="2.4"/>
<circle cx="134.9" cy="488.2" r="2.4"/>
<circle cx="152.0" cy="483.2" r="2.4"/>
<circle cx="152.0" cy="486.5" r="2.4"/>
<circle cx="142.0" cy="492.6" r="2.4"/>
</g>
<path d="M37.4,404.2 L37.4,548.5 L176.2,548.5" fill="none" stroke="#6a6a6a" stroke-width="1.1"/>
<line x1="34.9" y1="548.5" x2="37.4" y2="548.5" stroke="#6a6a6a" stroke-width="1"/>
<text x="29.4" y="551.7" font-size="8.7" textLength="4.20" lengthAdjust="spacingAndGlyphs" fill="#333" style="color:#333">0</text>
<line x1="34.9" y1="529.6" x2="37.4" y2="529.6" stroke="#6a6a6a" stroke-width="1"/>
<text x="29.4" y="532.8" font-size="8.7" textLength="4.20" lengthAdjust="spacingAndGlyphs" fill="#333" style="color:#333">2</text>
<line x1="34.9" y1="510.7" x2="37.4" y2="510.7" stroke="#6a6a6a" stroke-width="1"/>
<text x="29.4" y="513.9" font-size="8.7" textLength="4.20" lengthAdjust="spacingAndGlyphs" fill="#333" style="color:#333">4</text>
<line x1="34.9" y1="491.8" x2="37.4" y2="491.8" stroke="#6a6a6a" stroke-width="1"/>
<text x="29.4" y="495.0" font-size="8.7" textLength="4.20" lengthAdjust="spacingAndGlyphs" fill="#333" style="color:#333">6</text>
<line x1="34.9" y1="472.8" x2="37.4" y2="472.8" stroke="#6a6a6a" stroke-width="1"/>
<text x="29.4" y="476.0" font-size="8.7" textLength="4.20" lengthAdjust="spacingAndGlyphs" fill="#333" style="color:#333">8</text>
<line x1="34.9" y1="453.9" x2="37.4" y2="453.9" stroke="#6a6a6a" stroke-width="1"/>
<text x="25.2" y="457.1" font-size="8.7" textLength="8.40" lengthAdjust="spacingAndGlyphs" fill="#333" style="color:#333">10</text>
<line x1="34.9" y1="435.0" x2="37.4" y2="435.0" stroke="#6a6a6a" stroke-width="1"/>
<text x="25.2" y="438.2" font-size="8.7" textLength="8.40" lengthAdjust="spacingAndGlyphs" fill="#333" style="color:#333">12</text>
<line x1="34.9" y1="416.1" x2="37.4" y2="416.1" stroke="#6a6a6a" stroke-width="1"/>
<text x="25.2" y="419.3" font-size="8.7" textLength="8.40" lengthAdjust="spacingAndGlyphs" fill="#333" style="color:#333">14</text>
<line x1="69.8" y1="548.5" x2="69.8" y2="550.5" stroke="#6a6a6a" stroke-width="1"/>
<text x="60.5" y="562.4" font-size="11.3" textLength="17" lengthAdjust="spacingAndGlyphs" fill="#222">PNI</text>
<line x1="142.7" y1="548.5" x2="142.7" y2="550.5" stroke="#6a6a6a" stroke-width="1"/>
<text x="122.2" y="562.4" font-size="11.3" textLength="41" lengthAdjust="spacingAndGlyphs" fill="#222">non-PNI</text>
<text transform="translate(20.3,475.4) rotate(-90)" x="-63.6" y="0" font-size="11.2" textLength="127.2" lengthAdjust="spacingAndGlyphs" fill="#222">SFRP4 mRNA expression</text>
<text class="t" x="54.7" y="396.4" font-size="10.6" fill="#222" textLength="93.7" lengthAdjust="spacingAndGlyphs"><tspan font-style="italic">q</tspan>-Value: 3.20 × 10</text>
<text class="t" x="149.7" y="392.5" font-size="7.8" textLength="8.5" lengthAdjust="spacingAndGlyphs" fill="#222">−2</text>
<line x1="212.5" y1="528.0" x2="351.1" y2="528.0" stroke="#f2f2f2" stroke-width="0.8" stroke-dasharray="3,2"/>
<line x1="212.5" y1="509.2" x2="351.1" y2="509.2" stroke="#f2f2f2" stroke-width="0.8" stroke-dasharray="3,2"/>
<line x1="212.5" y1="490.5" x2="351.1" y2="490.5" stroke="#f2f2f2" stroke-width="0.8" stroke-dasharray="3,2"/>
<line x1="212.5" y1="471.8" x2="351.1" y2="471.8" stroke="#f2f2f2" stroke-width="0.8" stroke-dasharray="3,2"/>
<line x1="212.5" y1="453.1" x2="351.1" y2="453.1" stroke="#f2f2f2" stroke-width="0.8" stroke-dasharray="3,2"/>
<line x1="212.5" y1="434.3" x2="351.1" y2="434.3" stroke="#f2f2f2" stroke-width="0.8" stroke-dasharray="3,2"/>
<line x1="212.5" y1="415.6" x2="351.1" y2="415.6" stroke="#f2f2f2" stroke-width="0.8" stroke-dasharray="3,2"/>
<line x1="245.0" y1="402.4" x2="245.0" y2="546.7" stroke="#f2f2f2" stroke-width="0.8" stroke-dasharray="3,2"/>
<line x1="318.4" y1="402.4" x2="318.4" y2="546.7" stroke="#f2f2f2" stroke-width="0.8" stroke-dasharray="3,2"/>
<rect x="225.0" y="446.7" width="40.0" height="26.2" fill="#ededed"/>
<line x1="245.0" y1="408.5" x2="245.0" y2="514.9" stroke="#b0b0b0" stroke-width="0.8"/>
<line x1="225.0" y1="408.5" x2="265.0" y2="408.5" stroke="#ababab" stroke-width="1"/>
<line x1="225.0" y1="514.9" x2="265.0" y2="514.9" stroke="#ababab" stroke-width="1"/>
<line x1="225.0" y1="458.9" x2="265.0" y2="458.9" stroke="#ababab" stroke-width="1"/>
<rect x="298.7" y="467.3" width="39.3" height="17.9" fill="#ededed"/>
<line x1="318.4" y1="439.3" x2="318.4" y2="503.3" stroke="#b0b0b0" stroke-width="0.8"/>
<line x1="298.7" y1="439.3" x2="338.0" y2="439.3" stroke="#ababab" stroke-width="1"/>
<line x1="298.7" y1="503.3" x2="338.0" y2="503.3" stroke="#ababab" stroke-width="1"/>
<line x1="298.7" y1="473.8" x2="338.0" y2="473.8" stroke="#ababab" stroke-width="1"/>
<g fill="#06a3ea">
<path d="M236.0,428.0 L235.4,432.0 L235.4,476.0 L238.0,482.0 L243.0,489.0 L256.0,489.0 L256.5,482.0 L256.5,476.0 L256.5,432.0 L256.2,428.0Z"/>
<circle cx="238.7" cy="428.7" r="2"/>
<circle cx="236.5" cy="431.6" r="2"/>
<circle cx="237.2" cy="434.0" r="2"/>
<circle cx="237.1" cy="437.9" r="2"/>
<circle cx="237.1" cy="439.8" r="2"/>
<circle cx="237.5" cy="443.2" r="2"/>
<circle cx="237.8" cy="446.2" r="2"/>
<circle cx="236.5" cy="448.8" r="2"/>
<circle cx="236.8" cy="451.9" r="2"/>
<circle cx="237.0" cy="454.1" r="2"/>
<circle cx="236.7" cy="457.2" r="2"/>
<circle cx="236.7" cy="459.0" r="2"/>
<circle cx="237.9" cy="461.6" r="2"/>
<circle cx="236.9" cy="465.1" r="2"/>
<circle cx="238.1" cy="467.6" r="2"/>
<circle cx="236.7" cy="470.5" r="2"/>
<circle cx="237.5" cy="473.8" r="2"/>
<circle cx="236.5" cy="476.9" r="2"/>
<circle cx="239.1" cy="479.0" r="2"/>
<circle cx="240.5" cy="482.6" r="2"/>
<circle cx="241.9" cy="484.7" r="2"/>
<circle cx="253.8" cy="427.3" r="2"/>
<circle cx="254.8" cy="432.9" r="2"/>
<circle cx="254.5" cy="435.5" r="2"/>
<circle cx="254.6" cy="438.2" r="2"/>
<circle cx="255.2" cy="439.8" r="2"/>
<circle cx="254.0" cy="443.8" r="2"/>
<circle cx="254.9" cy="445.9" r="2"/>
<circle cx="254.5" cy="448.0" r="2"/>
<circle cx="254.2" cy="450.6" r="2"/>
<circle cx="254.9" cy="453.6" r="2"/>
<circle cx="254.2" cy="457.0" r="2"/>
<circle cx="254.4" cy="458.6" r="2"/>
<circle cx="254.1" cy="462.6" r="2"/>
<circle cx="254.2" cy="464.7" r="2"/>
<circle cx="254.8" cy="468.3" r="2"/>
<circle cx="254.0" cy="469.7" r="2"/>
<circle cx="254.8" cy="473.1" r="2"/>
<circle cx="254.0" cy="476.3" r="2"/>
<circle cx="255.1" cy="478.4" r="2"/>
<circle cx="254.3" cy="481.8" r="2"/>
<circle cx="255.3" cy="485.2" r="2"/>
<circle cx="235.7" cy="429.9" r="2"/>
<circle cx="238.6" cy="429.6" r="2"/>
<circle cx="242.4" cy="430.7" r="2"/>
<circle cx="244.4" cy="429.3" r="2"/>
<circle cx="248.0" cy="429.3" r="2"/>
<circle cx="249.5" cy="430.5" r="2"/>
<circle cx="253.2" cy="430.4" r="2"/>
<circle cx="256.0" cy="430.5" r="2"/>
<circle cx="242.9" cy="486.6" r="2"/>
<circle cx="244.7" cy="487.3" r="2"/>
<circle cx="248.5" cy="487.9" r="2"/>
<circle cx="250.1" cy="487.4" r="2"/>
<circle cx="253.2" cy="487.2" r="2"/>
<circle cx="255.4" cy="486.8" r="2"/>
<circle cx="239.0" cy="408.7" r="2.4"/>
<circle cx="240.3" cy="416.3" r="2.4"/>
<circle cx="237.2" cy="423.6" r="2.4"/>
<circle cx="246.3" cy="420.8" r="2.4"/>
<circle cx="251.7" cy="422.6" r="2.4"/>
<circle cx="238.1" cy="429.0" r="2.4"/>
<circle cx="236.7" cy="486.2" r="2.4"/>
<circle cx="236.7" cy="492.0" r="2.4"/>
<circle cx="240.1" cy="495.4" r="2.4"/>
<circle cx="244.0" cy="492.0" r="2.4"/>
<circle cx="245.5" cy="497.9" r="2.4"/>
<circle cx="236.3" cy="500.8" r="2.4"/>
<circle cx="242.1" cy="501.7" r="2.4"/>
<circle cx="237.7" cy="508.5" r="2.4"/>
<circle cx="243.5" cy="507.6" r="2.4"/>
<circle cx="248.4" cy="502.7" r="2.4"/>
<circle cx="253.7" cy="502.7" r="2.4"/>
<circle cx="254.7" cy="507.1" r="2.4"/>
<circle cx="255.2" cy="491.1" r="2.4"/>
<circle cx="254.2" cy="495.9" r="2.4"/>
<circle cx="250.0" cy="497.0" r="2.4"/>
<circle cx="238.0" cy="480.0" r="2.4"/>
<circle cx="247.4" cy="516.3" r="2.4"/>
<circle cx="247.9" cy="518.7" r="2.4"/>
<circle cx="250.3" cy="531.8" r="2.4"/>
</g>
<g fill="#06a3ea">
<circle cx="310.5" cy="427.6" r="2.4"/>
<circle cx="314.6" cy="428.1" r="2.4"/>
<circle cx="321.0" cy="434.6" r="2.4"/>
<circle cx="326.8" cy="439.2" r="2.4"/>
<circle cx="318.0" cy="441.0" r="2.4"/>
<circle cx="325.0" cy="443.9" r="2.4"/>
<circle cx="316.9" cy="451.4" r="2.4"/>
<circle cx="325.6" cy="451.4" r="2.4"/>
<circle cx="319.2" cy="454.9" r="2.4"/>
<circle cx="318.6" cy="457.8" r="2.4"/>
<circle cx="309.9" cy="460.2" r="2.4"/>
<circle cx="309.9" cy="467.1" r="2.4"/>
<circle cx="309.9" cy="470.1" r="2.4"/>
<circle cx="317.5" cy="468.9" r="2.4"/>
<circle cx="322.7" cy="470.1" r="2.4"/>
<circle cx="316.3" cy="472.4" r="2.4"/>
<circle cx="320.4" cy="471.2" r="2.4"/>
<circle cx="323.9" cy="472.4" r="2.4"/>
<circle cx="315.1" cy="474.7" r="2.4"/>
<circle cx="319.2" cy="474.1" r="2.4"/>
<circle cx="322.7" cy="475.9" r="2.4"/>
<circle cx="309.3" cy="478.8" r="2.4"/>
<circle cx="314.6" cy="482.3" r="2.4"/>
<circle cx="316.9" cy="481.7" r="2.4"/>
<circle cx="320.4" cy="483.4" r="2.4"/>
<circle cx="324.4" cy="482.9" r="2.4"/>
<circle cx="319.2" cy="485.8" r="2.4"/>
<circle cx="321.5" cy="486.9" r="2.4"/>
<circle cx="327.4" cy="487.5" r="2.4"/>
<circle cx="310.5" cy="489.8" r="2.4"/>
<circle cx="312.2" cy="488.7" r="2.4"/>
<circle cx="319.8" cy="492.2" r="2.4"/>
<circle cx="317.5" cy="494.5" r="2.4"/>
<circle cx="308.7" cy="499.7" r="2.4"/>
<circle cx="327.4" cy="499.2" r="2.4"/>
<circle cx="319.8" cy="503.2" r="2.4"/>
</g>
<path d="M211.5,402.4 L211.5,546.7 L351.1,546.7" fill="none" stroke="#6a6a6a" stroke-width="1.1"/>
<line x1="209.0" y1="546.7" x2="211.5" y2="546.7" stroke="#6a6a6a" stroke-width="1"/>
<text x="203.5" y="549.9" font-size="8.7" textLength="4.20" lengthAdjust="spacingAndGlyphs" fill="#333" style="color:#333">0</text>
<line x1="209.0" y1="528.0" x2="211.5" y2="528.0" stroke="#6a6a6a" stroke-width="1"/>
<text x="203.5" y="531.2" font-size="8.7" textLength="4.20" lengthAdjust="spacingAndGlyphs" fill="#333" style="color:#333">2</text>
<line x1="209.0" y1="509.2" x2="211.5" y2="509.2" stroke="#6a6a6a" stroke-width="1"/>
<text x="203.5" y="512.4" font-size="8.7" textLength="4.20" lengthAdjust="spacingAndGlyphs" fill="#333" style="color:#333">4</text>
<line x1="209.0" y1="490.5" x2="211.5" y2="490.5" stroke="#6a6a6a" stroke-width="1"/>
<text x="203.5" y="493.7" font-size="8.7" textLength="4.20" lengthAdjust="spacingAndGlyphs" fill="#333" style="color:#333">6</text>
<line x1="209.0" y1="471.8" x2="211.5" y2="471.8" stroke="#6a6a6a" stroke-width="1"/>
<text x="203.5" y="475.0" font-size="8.7" textLength="4.20" lengthAdjust="spacingAndGlyphs" fill="#333" style="color:#333">8</text>
<line x1="209.0" y1="453.1" x2="211.5" y2="453.1" stroke="#6a6a6a" stroke-width="1"/>
<text x="199.3" y="456.3" font-size="8.7" textLength="8.40" lengthAdjust="spacingAndGlyphs" fill="#333" style="color:#333">10</text>
<line x1="209.0" y1="434.3" x2="211.5" y2="434.3" stroke="#6a6a6a" stroke-width="1"/>
<text x="199.3" y="437.5" font-size="8.7" textLength="8.40" lengthAdjust="spacingAndGlyphs" fill="#333" style="color:#333">12</text>
<line x1="209.0" y1="415.6" x2="211.5" y2="415.6" stroke="#6a6a6a" stroke-width="1"/>
<text x="199.3" y="418.8" font-size="8.7" textLength="8.40" lengthAdjust="spacingAndGlyphs" fill="#333" style="color:#333">14</text>
<line x1="245.0" y1="546.7" x2="245.0" y2="548.7" stroke="#6a6a6a" stroke-width="1"/>
<text x="236.7" y="562.4" font-size="11.3" textLength="17" lengthAdjust="spacingAndGlyphs" fill="#222">PNI</text>
<line x1="318.4" y1="546.7" x2="318.4" y2="548.7" stroke="#6a6a6a" stroke-width="1"/>
<text x="298.5" y="562.4" font-size="11.3" textLength="41" lengthAdjust="spacingAndGlyphs" fill="#222">non-PNI</text>
<text transform="translate(193.9,475.4) rotate(-90)" x="-63.6" y="0" font-size="11.2" textLength="127.2" lengthAdjust="spacingAndGlyphs" fill="#222">COMP mRNA expression</text>
<text class="t" x="221.2" y="398.2" font-size="10.6" fill="#222" textLength="93.7" lengthAdjust="spacingAndGlyphs"><tspan font-style="italic">q</tspan>-Value: 2.99 × 10</text>
<text class="t" x="316.2" y="394.3" font-size="7.8" textLength="8.5" lengthAdjust="spacingAndGlyphs" fill="#222">−2</text>
<line x1="395.0" y1="519.1" x2="544.5" y2="519.1" stroke="#f2f2f2" stroke-width="0.8" stroke-dasharray="3,2"/>
<line x1="395.0" y1="496.1" x2="544.5" y2="496.1" stroke="#f2f2f2" stroke-width="0.8" stroke-dasharray="3,2"/>
<line x1="395.0" y1="473.2" x2="544.5" y2="473.2" stroke="#f2f2f2" stroke-width="0.8" stroke-dasharray="3,2"/>
<line x1="395.0" y1="450.2" x2="544.5" y2="450.2" stroke="#f2f2f2" stroke-width="0.8" stroke-dasharray="3,2"/>
<line x1="395.0" y1="427.2" x2="544.5" y2="427.2" stroke="#f2f2f2" stroke-width="0.8" stroke-dasharray="3,2"/>
<line x1="395.0" y1="404.2" x2="544.5" y2="404.2" stroke="#f2f2f2" stroke-width="0.8" stroke-dasharray="3,2"/>
<line x1="438.6" y1="391.5" x2="438.6" y2="542.1" stroke="#f2f2f2" stroke-width="0.8" stroke-dasharray="3,2"/>
<line x1="500.5" y1="391.5" x2="500.5" y2="542.1" stroke="#f2f2f2" stroke-width="0.8" stroke-dasharray="3,2"/>
<rect x="416.9" y="443.1" width="43.3" height="19.1" fill="#ededed"/>
<line x1="438.6" y1="412.3" x2="438.6" y2="493.3" stroke="#b0b0b0" stroke-width="0.8"/>
<line x1="416.9" y1="412.3" x2="460.2" y2="412.3" stroke="#ababab" stroke-width="1"/>
<line x1="416.9" y1="493.3" x2="460.2" y2="493.3" stroke="#ababab" stroke-width="1"/>
<line x1="416.9" y1="452.5" x2="460.2" y2="452.5" stroke="#ababab" stroke-width="1"/>
<rect x="479.5" y="456.0" width="42.9" height="15.0" fill="#ededed"/>
<line x1="500.5" y1="431.3" x2="500.5" y2="485.5" stroke="#b0b0b0" stroke-width="0.8"/>
<line x1="479.5" y1="431.3" x2="522.4" y2="431.3" stroke="#ababab" stroke-width="1"/>
<line x1="479.5" y1="485.5" x2="522.4" y2="485.5" stroke="#ababab" stroke-width="1"/>
<line x1="479.5" y1="465.2" x2="522.4" y2="465.2" stroke="#ababab" stroke-width="1"/>
<g fill="#06a3ea">
<path d="M428.5,427.0 L427.9,432.0 L427.9,478.0 L428.6,486.0 L446.0,486.0 L447.2,478.0 L447.2,432.0 L446.5,427.0Z"/>
<circle cx="431.1" cy="427.0" r="2"/>
<circle cx="429.7" cy="431.3" r="2"/>
<circle cx="430.5" cy="435.3" r="2"/>
<circle cx="429.0" cy="436.9" r="2"/>
<circle cx="430.6" cy="440.9" r="2"/>
<circle cx="428.9" cy="442.8" r="2"/>
<circle cx="429.5" cy="446.3" r="2"/>
<circle cx="429.9" cy="449.0" r="2"/>
<circle cx="429.1" cy="451.5" r="2"/>
<circle cx="429.2" cy="454.2" r="2"/>
<circle cx="430.3" cy="456.2" r="2"/>
<circle cx="429.1" cy="459.7" r="2"/>
<circle cx="429.5" cy="461.3" r="2"/>
<circle cx="429.5" cy="464.5" r="2"/>
<circle cx="429.2" cy="466.5" r="2"/>
<circle cx="430.4" cy="470.3" r="2"/>
<circle cx="429.8" cy="471.8" r="2"/>
<circle cx="428.9" cy="475.8" r="2"/>
<circle cx="429.0" cy="478.6" r="2"/>
<circle cx="430.0" cy="480.8" r="2"/>
<circle cx="429.8" cy="483.6" r="2"/>
<circle cx="444.8" cy="426.9" r="2"/>
<circle cx="445.7" cy="431.9" r="2"/>
<circle cx="445.3" cy="434.6" r="2"/>
<circle cx="445.6" cy="436.6" r="2"/>
<circle cx="444.9" cy="440.1" r="2"/>
<circle cx="445.9" cy="443.3" r="2"/>
<circle cx="444.8" cy="445.5" r="2"/>
<circle cx="444.7" cy="448.2" r="2"/>
<circle cx="445.3" cy="450.3" r="2"/>
<circle cx="445.3" cy="452.9" r="2"/>
<circle cx="444.6" cy="456.4" r="2"/>
<circle cx="444.6" cy="459.3" r="2"/>
<circle cx="445.9" cy="462.2" r="2"/>
<circle cx="444.6" cy="464.5" r="2"/>
<circle cx="445.2" cy="467.2" r="2"/>
<circle cx="444.7" cy="470.7" r="2"/>
<circle cx="446.3" cy="473.2" r="2"/>
<circle cx="446.0" cy="475.7" r="2"/>
<circle cx="446.3" cy="477.4" r="2"/>
<circle cx="445.8" cy="480.7" r="2"/>
<circle cx="444.0" cy="484.1" r="2"/>
<circle cx="429.0" cy="429.6" r="2"/>
<circle cx="430.7" cy="428.5" r="2"/>
<circle cx="435.0" cy="428.2" r="2"/>
<circle cx="438.2" cy="428.4" r="2"/>
<circle cx="441.1" cy="428.2" r="2"/>
<circle cx="443.5" cy="429.6" r="2"/>
<circle cx="446.0" cy="428.4" r="2"/>
<circle cx="428.6" cy="483.9" r="2"/>
<circle cx="430.7" cy="483.6" r="2"/>
<circle cx="433.8" cy="485.0" r="2"/>
<circle cx="437.6" cy="484.9" r="2"/>
<circle cx="439.6" cy="484.7" r="2"/>
<circle cx="442.4" cy="484.3" r="2"/>
<circle cx="446.2" cy="483.9" r="2"/>
<circle cx="432.3" cy="398.2" r="2.4"/>
<circle cx="429.3" cy="419.0" r="2.4"/>
<circle cx="433.8" cy="417.5" r="2.4"/>
<circle cx="436.0" cy="420.5" r="2.4"/>
<circle cx="444.2" cy="424.2" r="2.4"/>
<circle cx="442.0" cy="423.5" r="2.4"/>
<circle cx="431.0" cy="423.0" r="2.4"/>
<circle cx="445.0" cy="488.2" r="2.4"/>
<circle cx="442.0" cy="488.2" r="2.4"/>
<circle cx="436.0" cy="492.7" r="2.4"/>
<circle cx="436.0" cy="497.1" r="2.4"/>
<circle cx="430.0" cy="487.0" r="2.4"/>
</g>
<g fill="#06a3ea">
<circle cx="494.3" cy="422.2" r="2.4"/>
<circle cx="497.9" cy="425.9" r="2.4"/>
<circle cx="501.0" cy="431.0" r="2.4"/>
<circle cx="507.3" cy="433.6" r="2.4"/>
<circle cx="499.5" cy="436.7" r="2.4"/>
<circle cx="500.0" cy="445.5" r="2.4"/>
<circle cx="506.7" cy="446.1" r="2.4"/>
<circle cx="493.3" cy="450.7" r="2.4"/>
<circle cx="501.0" cy="450.2" r="2.4"/>
<circle cx="502.6" cy="453.3" r="2.4"/>
<circle cx="508.3" cy="456.4" r="2.4"/>
<circle cx="504.2" cy="456.9" r="2.4"/>
<circle cx="493.3" cy="459.0" r="2.4"/>
<circle cx="497.9" cy="458.0" r="2.4"/>
<circle cx="505.2" cy="461.1" r="2.4"/>
<circle cx="493.3" cy="463.1" r="2.4"/>
<circle cx="496.9" cy="462.6" r="2.4"/>
<circle cx="500.5" cy="463.7" r="2.4"/>
<circle cx="503.1" cy="465.7" r="2.4"/>
<circle cx="492.2" cy="465.7" r="2.4"/>
<circle cx="495.9" cy="466.2" r="2.4"/>
<circle cx="499.0" cy="467.3" r="2.4"/>
<circle cx="507.3" cy="467.3" r="2.4"/>
<circle cx="509.3" cy="468.8" r="2.4"/>
<circle cx="502.1" cy="469.9" r="2.4"/>
<circle cx="505.7" cy="470.9" r="2.4"/>
<circle cx="492.8" cy="471.9" r="2.4"/>
<circle cx="496.4" cy="471.4" r="2.4"/>
<circle cx="508.3" cy="471.4" r="2.4"/>
<circle cx="492.2" cy="474.0" r="2.4"/>
<circle cx="499.0" cy="475.0" r="2.4"/>
<circle cx="502.6" cy="474.5" r="2.4"/>
<circle cx="505.2" cy="477.6" r="2.4"/>
<circle cx="500.0" cy="482.8" r="2.4"/>
<circle cx="502.6" cy="485.4" r="2.4"/>
</g>
<path d="M394.0,391.5 L394.0,542.1 L544.5,542.1" fill="none" stroke="#6a6a6a" stroke-width="1.1"/>
<line x1="391.5" y1="542.1" x2="394.0" y2="542.1" stroke="#6a6a6a" stroke-width="1"/>
<text x="386.0" y="545.3" font-size="8.7" textLength="4.20" lengthAdjust="spacingAndGlyphs" fill="#333" style="color:#333">0</text>
<line x1="391.5" y1="519.1" x2="394.0" y2="519.1" stroke="#6a6a6a" stroke-width="1"/>
<text x="386.0" y="522.3" font-size="8.7" textLength="4.20" lengthAdjust="spacingAndGlyphs" fill="#333" style="color:#333">2</text>
<line x1="391.5" y1="496.1" x2="394.0" y2="496.1" stroke="#6a6a6a" stroke-width="1"/>
<text x="386.0" y="499.3" font-size="8.7" textLength="4.20" lengthAdjust="spacingAndGlyphs" fill="#333" style="color:#333">4</text>
<line x1="391.5" y1="473.2" x2="394.0" y2="473.2" stroke="#6a6a6a" stroke-width="1"/>
<text x="386.0" y="476.4" font-size="8.7" textLength="4.20" lengthAdjust="spacingAndGlyphs" fill="#333" style="color:#333">6</text>
<line x1="391.5" y1="450.2" x2="394.0" y2="450.2" stroke="#6a6a6a" stroke-width="1"/>
<text x="386.0" y="453.4" font-size="8.7" textLength="4.20" lengthAdjust="spacingAndGlyphs" fill="#333" style="color:#333">8</text>
<line x1="391.5" y1="427.2" x2="394.0" y2="427.2" stroke="#6a6a6a" stroke-width="1"/>
<text x="381.8" y="430.4" font-size="8.7" textLength="8.40" lengthAdjust="spacingAndGlyphs" fill="#333" style="color:#333">10</text>
<line x1="391.5" y1="404.2" x2="394.0" y2="404.2" stroke="#6a6a6a" stroke-width="1"/>
<text x="381.8" y="407.4" font-size="8.7" textLength="8.40" lengthAdjust="spacingAndGlyphs" fill="#333" style="color:#333">12</text>
<line x1="438.6" y1="542.1" x2="438.6" y2="544.1" stroke="#6a6a6a" stroke-width="1"/>
<text x="422.3" y="562.5" font-size="11.3" textLength="17" lengthAdjust="spacingAndGlyphs" fill="#222">PNI</text>
<line x1="500.5" y1="542.1" x2="500.5" y2="544.1" stroke="#6a6a6a" stroke-width="1"/>
<text x="484.2" y="562.5" font-size="11.3" textLength="41" lengthAdjust="spacingAndGlyphs" fill="#222">non-PNI</text>
<text transform="translate(376.2,475.5) rotate(-90)" x="-61.0" y="0" font-size="11.2" textLength="122.1" lengthAdjust="spacingAndGlyphs" fill="#222">ASPN mRNA expression</text>
<text class="t" x="407.5" y="393.9" font-size="10.6" fill="#222" textLength="93.7" lengthAdjust="spacingAndGlyphs"><tspan font-style="italic">q</tspan>-Value: 2.92 × 10</text>
<text class="t" x="502.5" y="390.0" font-size="7.8" textLength="8.5" lengthAdjust="spacingAndGlyphs" fill="#222">−2</text>
<line x1="37.9" y1="732.7" x2="174.1" y2="732.7" stroke="#f2f2f2" stroke-width="0.8" stroke-dasharray="3,2"/>
<line x1="37.9" y1="717.4" x2="174.1" y2="717.4" stroke="#f2f2f2" stroke-width="0.8" stroke-dasharray="3,2"/>
<line x1="37.9" y1="702.2" x2="174.1" y2="702.2" stroke="#f2f2f2" stroke-width="0.8" stroke-dasharray="3,2"/>
<line x1="37.9" y1="686.9" x2="174.1" y2="686.9" stroke="#f2f2f2" stroke-width="0.8" stroke-dasharray="3,2"/>
<line x1="37.9" y1="671.7" x2="174.1" y2="671.7" stroke="#f2f2f2" stroke-width="0.8" stroke-dasharray="3,2"/>
<line x1="37.9" y1="656.5" x2="174.1" y2="656.5" stroke="#f2f2f2" stroke-width="0.8" stroke-dasharray="3,2"/>
<line x1="37.9" y1="641.2" x2="174.1" y2="641.2" stroke="#f2f2f2" stroke-width="0.8" stroke-dasharray="3,2"/>
<line x1="37.9" y1="626.0" x2="174.1" y2="626.0" stroke="#f2f2f2" stroke-width="0.8" stroke-dasharray="3,2"/>
<line x1="37.9" y1="610.7" x2="174.1" y2="610.7" stroke="#f2f2f2" stroke-width="0.8" stroke-dasharray="3,2"/>
<line x1="77.3" y1="604.8" x2="77.3" y2="747.9" stroke="#f2f2f2" stroke-width="0.8" stroke-dasharray="3,2"/>
<line x1="134.8" y1="604.8" x2="134.8" y2="747.9" stroke="#f2f2f2" stroke-width="0.8" stroke-dasharray="3,2"/>
<rect x="58.0" y="659.5" width="38.7" height="28.0" fill="#ededed"/>
<line x1="77.3" y1="616.8" x2="77.3" y2="730.3" stroke="#b0b0b0" stroke-width="0.8"/>
<line x1="58.0" y1="616.8" x2="96.7" y2="616.8" stroke="#ababab" stroke-width="1"/>
<line x1="58.0" y1="730.3" x2="96.7" y2="730.3" stroke="#ababab" stroke-width="1"/>
<line x1="58.0" y1="673.5" x2="96.7" y2="673.5" stroke="#ababab" stroke-width="1"/>
<rect x="115.2" y="673.7" width="38.5" height="25.9" fill="#ededed"/>
<line x1="134.8" y1="652.7" x2="134.8" y2="724.1" stroke="#b0b0b0" stroke-width="0.8"/>
<line x1="115.2" y1="652.7" x2="153.7" y2="652.7" stroke="#ababab" stroke-width="1"/>
<line x1="115.2" y1="724.1" x2="153.7" y2="724.1" stroke="#ababab" stroke-width="1"/>
<line x1="115.2" y1="683.6" x2="153.7" y2="683.6" stroke="#ababab" stroke-width="1"/>
<g fill="#06a3ea">
<path d="M73.5,632.0 L70.0,640.0 L68.6,646.0 L67.8,694.0 L68.2,701.0 L69.2,707.0 L69.6,711.0 L80.6,711.0 L84.5,707.0 L85.6,701.0 L86.7,694.0 L85.8,646.0 L85.0,640.0 L81.0,632.0Z"/>
<circle cx="75.4" cy="632.7" r="2"/>
<circle cx="74.8" cy="634.8" r="2"/>
<circle cx="73.9" cy="636.6" r="2"/>
<circle cx="71.6" cy="640.2" r="2"/>
<circle cx="70.7" cy="643.5" r="2"/>
<circle cx="70.5" cy="646.9" r="2"/>
<circle cx="70.8" cy="648.4" r="2"/>
<circle cx="69.7" cy="651.2" r="2"/>
<circle cx="69.5" cy="654.4" r="2"/>
<circle cx="69.8" cy="657.2" r="2"/>
<circle cx="71.0" cy="659.6" r="2"/>
<circle cx="70.4" cy="662.2" r="2"/>
<circle cx="69.2" cy="664.3" r="2"/>
<circle cx="69.4" cy="666.5" r="2"/>
<circle cx="69.9" cy="670.2" r="2"/>
<circle cx="70.7" cy="672.7" r="2"/>
<circle cx="69.4" cy="674.7" r="2"/>
<circle cx="69.0" cy="678.3" r="2"/>
<circle cx="69.6" cy="679.8" r="2"/>
<circle cx="69.5" cy="682.6" r="2"/>
<circle cx="69.9" cy="685.5" r="2"/>
<circle cx="69.2" cy="688.8" r="2"/>
<circle cx="69.6" cy="691.6" r="2"/>
<circle cx="70.4" cy="693.3" r="2"/>
<circle cx="69.2" cy="697.0" r="2"/>
<circle cx="70.2" cy="700.3" r="2"/>
<circle cx="71.0" cy="704.7" r="2"/>
<circle cx="70.6" cy="706.8" r="2"/>
<circle cx="79.5" cy="631.1" r="2"/>
<circle cx="80.3" cy="634.8" r="2"/>
<circle cx="81.8" cy="637.6" r="2"/>
<circle cx="83.6" cy="640.8" r="2"/>
<circle cx="84.3" cy="642.5" r="2"/>
<circle cx="84.1" cy="645.2" r="2"/>
<circle cx="83.6" cy="648.5" r="2"/>
<circle cx="84.6" cy="650.5" r="2"/>
<circle cx="84.2" cy="653.1" r="2"/>
<circle cx="83.6" cy="657.5" r="2"/>
<circle cx="84.4" cy="658.8" r="2"/>
<circle cx="84.6" cy="662.0" r="2"/>
<circle cx="83.8" cy="665.2" r="2"/>
<circle cx="84.0" cy="667.0" r="2"/>
<circle cx="85.2" cy="669.2" r="2"/>
<circle cx="84.9" cy="673.2" r="2"/>
<circle cx="85.2" cy="674.4" r="2"/>
<circle cx="84.5" cy="678.4" r="2"/>
<circle cx="84.6" cy="681.1" r="2"/>
<circle cx="84.0" cy="682.8" r="2"/>
<circle cx="83.9" cy="685.5" r="2"/>
<circle cx="85.2" cy="688.4" r="2"/>
<circle cx="85.5" cy="691.7" r="2"/>
<circle cx="84.5" cy="694.4" r="2"/>
<circle cx="84.2" cy="697.6" r="2"/>
<circle cx="83.8" cy="701.5" r="2"/>
<circle cx="83.5" cy="703.6" r="2"/>
<circle cx="82.2" cy="707.8" r="2"/>
<circle cx="74.2" cy="632.9" r="2"/>
<circle cx="76.8" cy="633.3" r="2"/>
<circle cx="81.4" cy="634.6" r="2"/>
<circle cx="70.0" cy="708.9" r="2"/>
<circle cx="73.0" cy="708.9" r="2"/>
<circle cx="74.6" cy="709.9" r="2"/>
<circle cx="78.1" cy="709.5" r="2"/>
<circle cx="80.9" cy="710.1" r="2"/>
<circle cx="74.0" cy="610.9" r="2.4"/>
<circle cx="82.2" cy="614.1" r="2.4"/>
<circle cx="76.7" cy="624.5" r="2.4"/>
<circle cx="77.6" cy="628.1" r="2.4"/>
<circle cx="74.9" cy="632.6" r="2.4"/>
<circle cx="81.3" cy="629.9" r="2.4"/>
<circle cx="71.4" cy="713.4" r="2.4"/>
<circle cx="71.7" cy="718.8" r="2.4"/>
<circle cx="78.1" cy="718.0" r="2.4"/>
<circle cx="84.9" cy="715.9" r="2.4"/>
<circle cx="75.6" cy="722.7" r="2.4"/>
<circle cx="70.3" cy="727.3" r="2.4"/>
<circle cx="70.3" cy="729.8" r="2.4"/>
<circle cx="78.8" cy="726.9" r="2.4"/>
<circle cx="81.0" cy="729.1" r="2.4"/>
</g>
<g fill="#06a3ea">
<circle cx="127.4" cy="652.5" r="2.4"/>
<circle cx="130.1" cy="654.4" r="2.4"/>
<circle cx="141.1" cy="652.5" r="2.4"/>
<circle cx="134.0" cy="657.1" r="2.4"/>
<circle cx="131.8" cy="658.8" r="2.4"/>
<circle cx="136.2" cy="665.9" r="2.4"/>
<circle cx="140.0" cy="668.1" r="2.4"/>
<circle cx="132.9" cy="669.2" r="2.4"/>
<circle cx="134.5" cy="669.8" r="2.4"/>
<circle cx="127.9" cy="673.6" r="2.4"/>
<circle cx="129.0" cy="676.4" r="2.4"/>
<circle cx="131.8" cy="677.5" r="2.4"/>
<circle cx="138.4" cy="676.4" r="2.4"/>
<circle cx="136.2" cy="680.2" r="2.4"/>
<circle cx="132.3" cy="683.5" r="2.4"/>
<circle cx="137.8" cy="683.0" r="2.4"/>
<circle cx="134.5" cy="684.6" r="2.4"/>
<circle cx="139.5" cy="684.6" r="2.4"/>
<circle cx="127.9" cy="686.8" r="2.4"/>
<circle cx="135.1" cy="687.4" r="2.4"/>
<circle cx="138.4" cy="687.4" r="2.4"/>
<circle cx="128.5" cy="688.5" r="2.4"/>
<circle cx="135.6" cy="689.6" r="2.4"/>
<circle cx="136.2" cy="692.3" r="2.4"/>
<circle cx="137.8" cy="691.8" r="2.4"/>
<circle cx="126.8" cy="694.0" r="2.4"/>
<circle cx="127.4" cy="700.6" r="2.4"/>
<circle cx="140.0" cy="702.8" r="2.4"/>
<circle cx="128.5" cy="705.5" r="2.4"/>
<circle cx="131.8" cy="706.6" r="2.4"/>
<circle cx="140.0" cy="706.6" r="2.4"/>
<circle cx="135.1" cy="709.9" r="2.4"/>
<circle cx="134.5" cy="712.1" r="2.4"/>
<circle cx="141.7" cy="712.1" r="2.4"/>
<circle cx="136.2" cy="716.0" r="2.4"/>
<circle cx="137.8" cy="724.2" r="2.4"/>
<circle cx="141.7" cy="723.7" r="2.4"/>
</g>
<path d="M36.9,604.8 L36.9,747.9 L174.1,747.9" fill="none" stroke="#6a6a6a" stroke-width="1.1"/>
<line x1="34.4" y1="747.9" x2="36.9" y2="747.9" stroke="#6a6a6a" stroke-width="1"/>
<text x="28.9" y="751.1" font-size="8.7" textLength="4.20" lengthAdjust="spacingAndGlyphs" fill="#333" style="color:#333">0</text>
<line x1="34.4" y1="732.7" x2="36.9" y2="732.7" stroke="#6a6a6a" stroke-width="1"/>
<text x="28.9" y="735.9" font-size="8.7" textLength="4.20" lengthAdjust="spacingAndGlyphs" fill="#333" style="color:#333">1</text>
<line x1="34.4" y1="717.4" x2="36.9" y2="717.4" stroke="#6a6a6a" stroke-width="1"/>
<text x="28.9" y="720.6" font-size="8.7" textLength="4.20" lengthAdjust="spacingAndGlyphs" fill="#333" style="color:#333">2</text>
<line x1="34.4" y1="702.2" x2="36.9" y2="702.2" stroke="#6a6a6a" stroke-width="1"/>
<text x="28.9" y="705.4" font-size="8.7" textLength="4.20" lengthAdjust="spacingAndGlyphs" fill="#333" style="color:#333">3</text>
<line x1="34.4" y1="686.9" x2="36.9" y2="686.9" stroke="#6a6a6a" stroke-width="1"/>
<text x="28.9" y="690.1" font-size="8.7" textLength="4.20" lengthAdjust="spacingAndGlyphs" fill="#333" style="color:#333">4</text>
<line x1="34.4" y1="671.7" x2="36.9" y2="671.7" stroke="#6a6a6a" stroke-width="1"/>
<text x="28.9" y="674.9" font-size="8.7" textLength="4.20" lengthAdjust="spacingAndGlyphs" fill="#333" style="color:#333">5</text>
<line x1="34.4" y1="656.5" x2="36.9" y2="656.5" stroke="#6a6a6a" stroke-width="1"/>
<text x="28.9" y="659.7" font-size="8.7" textLength="4.20" lengthAdjust="spacingAndGlyphs" fill="#333" style="color:#333">6</text>
<line x1="34.4" y1="641.2" x2="36.9" y2="641.2" stroke="#6a6a6a" stroke-width="1"/>
<text x="28.9" y="644.4" font-size="8.7" textLength="4.20" lengthAdjust="spacingAndGlyphs" fill="#333" style="color:#333">7</text>
<line x1="34.4" y1="626.0" x2="36.9" y2="626.0" stroke="#6a6a6a" stroke-width="1"/>
<text x="28.9" y="629.2" font-size="8.7" textLength="4.20" lengthAdjust="spacingAndGlyphs" fill="#333" style="color:#333">8</text>
<line x1="34.4" y1="610.7" x2="36.9" y2="610.7" stroke="#6a6a6a" stroke-width="1"/>
<text x="28.9" y="613.9" font-size="8.7" textLength="4.20" lengthAdjust="spacingAndGlyphs" fill="#333" style="color:#333">9</text>
<line x1="77.3" y1="747.9" x2="77.3" y2="749.9" stroke="#6a6a6a" stroke-width="1"/>
<text x="63.3" y="768.5" font-size="11.3" textLength="17" lengthAdjust="spacingAndGlyphs" fill="#222">PNI</text>
<line x1="134.8" y1="747.9" x2="134.8" y2="749.9" stroke="#6a6a6a" stroke-width="1"/>
<text x="125.5" y="768.5" font-size="11.3" textLength="41" lengthAdjust="spacingAndGlyphs" fill="#222">non-PNI</text>
<text transform="translate(20.3,679.2) rotate(-90)" x="-68.0" y="0" font-size="11.2" textLength="136.1" lengthAdjust="spacingAndGlyphs" fill="#222">COL9A3 mRNA expression</text>
<text class="t" x="52.9" y="598.8" font-size="10.6" fill="#222" textLength="93.7" lengthAdjust="spacingAndGlyphs"><tspan font-style="italic">q</tspan>-Value: 2.90 × 10</text>
<text class="t" x="147.9" y="594.9" font-size="7.8" textLength="8.5" lengthAdjust="spacingAndGlyphs" fill="#222">−2</text>
<line x1="210.2" y1="726.4" x2="349.8" y2="726.4" stroke="#f2f2f2" stroke-width="0.8" stroke-dasharray="3,2"/>
<line x1="210.2" y1="702.3" x2="349.8" y2="702.3" stroke="#f2f2f2" stroke-width="0.8" stroke-dasharray="3,2"/>
<line x1="210.2" y1="678.3" x2="349.8" y2="678.3" stroke="#f2f2f2" stroke-width="0.8" stroke-dasharray="3,2"/>
<line x1="210.2" y1="654.2" x2="349.8" y2="654.2" stroke="#f2f2f2" stroke-width="0.8" stroke-dasharray="3,2"/>
<line x1="210.2" y1="630.2" x2="349.8" y2="630.2" stroke="#f2f2f2" stroke-width="0.8" stroke-dasharray="3,2"/>
<line x1="210.2" y1="606.2" x2="349.8" y2="606.2" stroke="#f2f2f2" stroke-width="0.8" stroke-dasharray="3,2"/>
<line x1="250.8" y1="603.5" x2="250.8" y2="750.4" stroke="#f2f2f2" stroke-width="0.8" stroke-dasharray="3,2"/>
<line x1="309.1" y1="603.5" x2="309.1" y2="750.4" stroke="#f2f2f2" stroke-width="0.8" stroke-dasharray="3,2"/>
<rect x="230.8" y="646.8" width="40.0" height="30.0" fill="#ededed"/>
<line x1="250.8" y1="610.7" x2="250.8" y2="722.7" stroke="#b0b0b0" stroke-width="0.8"/>
<line x1="230.8" y1="610.7" x2="270.8" y2="610.7" stroke="#ababab" stroke-width="1"/>
<line x1="230.8" y1="722.7" x2="270.8" y2="722.7" stroke="#ababab" stroke-width="1"/>
<line x1="230.8" y1="658.8" x2="270.8" y2="658.8" stroke="#ababab" stroke-width="1"/>
<rect x="288.7" y="636.3" width="40.0" height="21.8" fill="#ededed"/>
<line x1="309.1" y1="616.6" x2="309.1" y2="684.7" stroke="#b0b0b0" stroke-width="0.8"/>
<line x1="288.7" y1="616.6" x2="328.7" y2="616.6" stroke="#ababab" stroke-width="1"/>
<line x1="288.7" y1="684.7" x2="328.7" y2="684.7" stroke="#ababab" stroke-width="1"/>
<line x1="288.7" y1="645.0" x2="328.7" y2="645.0" stroke="#ababab" stroke-width="1"/>
<g fill="#06a3ea">
<path d="M242.5,628.0 L241.9,632.0 L241.2,680.0 L242.2,689.0 L243.2,695.0 L256.2,695.0 L258.7,689.0 L259.6,680.0 L258.8,632.0 L258.5,628.0Z"/>
<circle cx="244.9" cy="627.9" r="2"/>
<circle cx="244.3" cy="632.4" r="2"/>
<circle cx="244.1" cy="634.6" r="2"/>
<circle cx="243.3" cy="637.5" r="2"/>
<circle cx="243.8" cy="639.5" r="2"/>
<circle cx="244.3" cy="641.9" r="2"/>
<circle cx="242.7" cy="644.7" r="2"/>
<circle cx="244.2" cy="647.3" r="2"/>
<circle cx="242.8" cy="650.4" r="2"/>
<circle cx="242.6" cy="652.5" r="2"/>
<circle cx="243.6" cy="656.3" r="2"/>
<circle cx="243.7" cy="659.0" r="2"/>
<circle cx="243.4" cy="660.6" r="2"/>
<circle cx="243.8" cy="663.8" r="2"/>
<circle cx="243.9" cy="667.2" r="2"/>
<circle cx="243.8" cy="668.6" r="2"/>
<circle cx="243.9" cy="672.7" r="2"/>
<circle cx="242.5" cy="674.0" r="2"/>
<circle cx="242.2" cy="676.6" r="2"/>
<circle cx="243.6" cy="680.6" r="2"/>
<circle cx="243.9" cy="683.2" r="2"/>
<circle cx="243.3" cy="686.2" r="2"/>
<circle cx="243.3" cy="688.3" r="2"/>
<circle cx="244.0" cy="692.5" r="2"/>
<circle cx="256.6" cy="627.7" r="2"/>
<circle cx="256.6" cy="631.1" r="2"/>
<circle cx="257.4" cy="634.3" r="2"/>
<circle cx="256.8" cy="637.1" r="2"/>
<circle cx="257.1" cy="640.8" r="2"/>
<circle cx="257.4" cy="643.3" r="2"/>
<circle cx="257.1" cy="644.5" r="2"/>
<circle cx="257.8" cy="647.9" r="2"/>
<circle cx="257.7" cy="650.4" r="2"/>
<circle cx="256.8" cy="653.4" r="2"/>
<circle cx="256.7" cy="656.7" r="2"/>
<circle cx="256.9" cy="659.2" r="2"/>
<circle cx="257.0" cy="660.4" r="2"/>
<circle cx="258.4" cy="664.5" r="2"/>
<circle cx="257.6" cy="665.8" r="2"/>
<circle cx="258.2" cy="669.3" r="2"/>
<circle cx="257.7" cy="671.4" r="2"/>
<circle cx="258.3" cy="674.4" r="2"/>
<circle cx="258.6" cy="676.9" r="2"/>
<circle cx="257.3" cy="679.6" r="2"/>
<circle cx="257.5" cy="683.4" r="2"/>
<circle cx="257.4" cy="685.3" r="2"/>
<circle cx="257.4" cy="688.2" r="2"/>
<circle cx="256.2" cy="692.4" r="2"/>
<circle cx="242.7" cy="629.5" r="2"/>
<circle cx="245.0" cy="629.6" r="2"/>
<circle cx="248.5" cy="629.1" r="2"/>
<circle cx="251.2" cy="628.9" r="2"/>
<circle cx="252.6" cy="629.4" r="2"/>
<circle cx="256.6" cy="629.8" r="2"/>
<circle cx="258.3" cy="630.5" r="2"/>
<circle cx="242.7" cy="693.1" r="2"/>
<circle cx="245.9" cy="693.7" r="2"/>
<circle cx="248.9" cy="693.5" r="2"/>
<circle cx="250.7" cy="692.9" r="2"/>
<circle cx="253.0" cy="693.8" r="2"/>
<circle cx="256.5" cy="693.6" r="2"/>
<circle cx="248.5" cy="610.3" r="2.4"/>
<circle cx="248.5" cy="614.1" r="2.4"/>
<circle cx="243.8" cy="617.8" r="2.4"/>
<circle cx="252.2" cy="618.8" r="2.4"/>
<circle cx="243.8" cy="622.5" r="2.4"/>
<circle cx="255.0" cy="624.4" r="2.4"/>
<circle cx="247.5" cy="626.3" r="2.4"/>
<circle cx="242.2" cy="700.1" r="2.4"/>
<circle cx="244.6" cy="703.0" r="2.4"/>
<circle cx="252.9" cy="698.1" r="2.4"/>
<circle cx="255.8" cy="698.1" r="2.4"/>
<circle cx="251.4" cy="703.0" r="2.4"/>
<circle cx="254.8" cy="704.9" r="2.4"/>
<circle cx="249.5" cy="707.3" r="2.4"/>
<circle cx="248.0" cy="708.3" r="2.4"/>
<circle cx="252.9" cy="709.3" r="2.4"/>
<circle cx="257.2" cy="710.7" r="2.4"/>
<circle cx="249.0" cy="712.7" r="2.4"/>
<circle cx="245.6" cy="716.6" r="2.4"/>
<circle cx="247.0" cy="714.6" r="2.4"/>
<circle cx="246.5" cy="723.3" r="2.4"/>
<circle cx="250.0" cy="724.8" r="2.4"/>
<circle cx="255.8" cy="727.2" r="2.4"/>
<circle cx="248.5" cy="729.2" r="2.4"/>
<circle cx="251.9" cy="728.2" r="2.4"/>
<circle cx="251.9" cy="739.4" r="2.4"/>
</g>
<g fill="#06a3ea">
<circle cx="316.2" cy="616.7" r="2.4"/>
<circle cx="308.5" cy="618.8" r="2.4"/>
<circle cx="313.1" cy="620.4" r="2.4"/>
<circle cx="316.2" cy="624.0" r="2.4"/>
<circle cx="301.7" cy="632.3" r="2.4"/>
<circle cx="307.4" cy="631.2" r="2.4"/>
<circle cx="310.5" cy="631.2" r="2.4"/>
<circle cx="315.7" cy="632.3" r="2.4"/>
<circle cx="301.2" cy="635.4" r="2.4"/>
<circle cx="309.5" cy="634.8" r="2.4"/>
<circle cx="312.6" cy="637.4" r="2.4"/>
<circle cx="305.4" cy="641.1" r="2.4"/>
<circle cx="302.8" cy="643.1" r="2.4"/>
<circle cx="307.4" cy="643.1" r="2.4"/>
<circle cx="310.5" cy="644.2" r="2.4"/>
<circle cx="314.7" cy="644.2" r="2.4"/>
<circle cx="308.5" cy="648.8" r="2.4"/>
<circle cx="312.6" cy="649.3" r="2.4"/>
<circle cx="314.7" cy="650.9" r="2.4"/>
<circle cx="301.7" cy="651.9" r="2.4"/>
<circle cx="306.4" cy="655.0" r="2.4"/>
<circle cx="310.0" cy="656.1" r="2.4"/>
<circle cx="308.5" cy="658.7" r="2.4"/>
<circle cx="302.2" cy="659.2" r="2.4"/>
<circle cx="301.7" cy="661.8" r="2.4"/>
<circle cx="301.7" cy="664.9" r="2.4"/>
<circle cx="303.3" cy="666.9" r="2.4"/>
<circle cx="307.4" cy="667.5" r="2.4"/>
<circle cx="309.5" cy="668.5" r="2.4"/>
<circle cx="314.2" cy="673.7" r="2.4"/>
<circle cx="313.1" cy="681.9" r="2.4"/>
<circle cx="302.8" cy="684.5" r="2.4"/>
</g>
<path d="M209.2,603.5 L209.2,750.4 L349.8,750.4" fill="none" stroke="#6a6a6a" stroke-width="1.1"/>
<line x1="206.7" y1="750.4" x2="209.2" y2="750.4" stroke="#6a6a6a" stroke-width="1"/>
<text x="201.2" y="753.6" font-size="8.7" textLength="4.20" lengthAdjust="spacingAndGlyphs" fill="#333" style="color:#333">0</text>
<line x1="206.7" y1="726.4" x2="209.2" y2="726.4" stroke="#6a6a6a" stroke-width="1"/>
<text x="201.2" y="729.6" font-size="8.7" textLength="4.20" lengthAdjust="spacingAndGlyphs" fill="#333" style="color:#333">2</text>
<line x1="206.7" y1="702.3" x2="209.2" y2="702.3" stroke="#6a6a6a" stroke-width="1"/>
<text x="201.2" y="705.5" font-size="8.7" textLength="4.20" lengthAdjust="spacingAndGlyphs" fill="#333" style="color:#333">4</text>
<line x1="206.7" y1="678.3" x2="209.2" y2="678.3" stroke="#6a6a6a" stroke-width="1"/>
<text x="201.2" y="681.5" font-size="8.7" textLength="4.20" lengthAdjust="spacingAndGlyphs" fill="#333" style="color:#333">6</text>
<line x1="206.7" y1="654.2" x2="209.2" y2="654.2" stroke="#6a6a6a" stroke-width="1"/>
<text x="201.2" y="657.4" font-size="8.7" textLength="4.20" lengthAdjust="spacingAndGlyphs" fill="#333" style="color:#333">8</text>
<line x1="206.7" y1="630.2" x2="209.2" y2="630.2" stroke="#6a6a6a" stroke-width="1"/>
<text x="197.0" y="633.4" font-size="8.7" textLength="8.40" lengthAdjust="spacingAndGlyphs" fill="#333" style="color:#333">10</text>
<line x1="206.7" y1="606.2" x2="209.2" y2="606.2" stroke="#6a6a6a" stroke-width="1"/>
<text x="197.0" y="609.4" font-size="8.7" textLength="8.40" lengthAdjust="spacingAndGlyphs" fill="#333" style="color:#333">12</text>
<line x1="250.8" y1="750.4" x2="250.8" y2="752.4" stroke="#6a6a6a" stroke-width="1"/>
<text x="240.5" y="765.8" font-size="11.3" textLength="17" lengthAdjust="spacingAndGlyphs" fill="#222">PNI</text>
<line x1="309.1" y1="750.4" x2="309.1" y2="752.4" stroke="#6a6a6a" stroke-width="1"/>
<text x="303.0" y="765.8" font-size="11.3" textLength="41" lengthAdjust="spacingAndGlyphs" fill="#222">non-PNI</text>
<text transform="translate(193.2,672.2) rotate(-90)" x="-63.6" y="0" font-size="11.2" textLength="127.3" lengthAdjust="spacingAndGlyphs" fill="#222">RYR2 mRNA expression</text>
<text class="t" x="225.0" y="587.9" font-size="10.6" fill="#222" textLength="100.7" lengthAdjust="spacingAndGlyphs"><tspan font-style="italic">q</tspan>-Value: 9.816 × 10</text>
<text class="t" x="327.0" y="584.0" font-size="7.8" textLength="8.5" lengthAdjust="spacingAndGlyphs" fill="#222">−4</text>
<line x1="392.5" y1="729.4" x2="532.3" y2="729.4" stroke="#f2f2f2" stroke-width="0.8" stroke-dasharray="3,2"/>
<line x1="392.5" y1="707.7" x2="532.3" y2="707.7" stroke="#f2f2f2" stroke-width="0.8" stroke-dasharray="3,2"/>
<line x1="392.5" y1="685.9" x2="532.3" y2="685.9" stroke="#f2f2f2" stroke-width="0.8" stroke-dasharray="3,2"/>
<line x1="392.5" y1="664.2" x2="532.3" y2="664.2" stroke="#f2f2f2" stroke-width="0.8" stroke-dasharray="3,2"/>
<line x1="392.5" y1="642.4" x2="532.3" y2="642.4" stroke="#f2f2f2" stroke-width="0.8" stroke-dasharray="3,2"/>
<line x1="392.5" y1="620.6" x2="532.3" y2="620.6" stroke="#f2f2f2" stroke-width="0.8" stroke-dasharray="3,2"/>
<line x1="433.2" y1="603.5" x2="433.2" y2="751.2" stroke="#f2f2f2" stroke-width="0.8" stroke-dasharray="3,2"/>
<line x1="491.5" y1="603.5" x2="491.5" y2="751.2" stroke="#f2f2f2" stroke-width="0.8" stroke-dasharray="3,2"/>
<rect x="413.1" y="641.2" width="40.2" height="18.3" fill="#ededed"/>
<line x1="433.2" y1="612.4" x2="433.2" y2="688.8" stroke="#b0b0b0" stroke-width="0.8"/>
<line x1="413.1" y1="612.4" x2="453.3" y2="612.4" stroke="#ababab" stroke-width="1"/>
<line x1="413.1" y1="688.8" x2="453.3" y2="688.8" stroke="#ababab" stroke-width="1"/>
<line x1="413.1" y1="650.6" x2="453.3" y2="650.6" stroke="#ababab" stroke-width="1"/>
<rect x="472.0" y="652.5" width="39.8" height="19.5" fill="#ededed"/>
<line x1="491.5" y1="627.1" x2="491.5" y2="695.3" stroke="#b0b0b0" stroke-width="0.8"/>
<line x1="472.0" y1="627.1" x2="511.8" y2="627.1" stroke="#ababab" stroke-width="1"/>
<line x1="472.0" y1="695.3" x2="511.8" y2="695.3" stroke="#ababab" stroke-width="1"/>
<line x1="472.0" y1="659.4" x2="511.8" y2="659.4" stroke="#ababab" stroke-width="1"/>
<g fill="#06a3ea">
<path d="M423.6,627.0 L423.6,673.0 L425.0,680.0 L441.0,680.0 L442.3,673.0 L442.3,627.0Z"/>
<circle cx="425.3" cy="626.4" r="2"/>
<circle cx="425.5" cy="630.2" r="2"/>
<circle cx="425.3" cy="631.7" r="2"/>
<circle cx="424.9" cy="635.8" r="2"/>
<circle cx="425.0" cy="637.3" r="2"/>
<circle cx="426.0" cy="640.9" r="2"/>
<circle cx="424.8" cy="642.6" r="2"/>
<circle cx="425.1" cy="645.5" r="2"/>
<circle cx="424.8" cy="648.7" r="2"/>
<circle cx="424.8" cy="651.0" r="2"/>
<circle cx="425.8" cy="654.9" r="2"/>
<circle cx="426.2" cy="656.0" r="2"/>
<circle cx="425.2" cy="658.8" r="2"/>
<circle cx="425.9" cy="663.0" r="2"/>
<circle cx="425.3" cy="665.3" r="2"/>
<circle cx="425.6" cy="667.0" r="2"/>
<circle cx="424.9" cy="669.6" r="2"/>
<circle cx="424.6" cy="672.8" r="2"/>
<circle cx="426.6" cy="676.3" r="2"/>
<circle cx="440.5" cy="627.3" r="2"/>
<circle cx="440.4" cy="629.9" r="2"/>
<circle cx="440.7" cy="631.8" r="2"/>
<circle cx="440.9" cy="634.9" r="2"/>
<circle cx="440.4" cy="638.6" r="2"/>
<circle cx="440.9" cy="640.7" r="2"/>
<circle cx="440.0" cy="643.1" r="2"/>
<circle cx="441.2" cy="646.3" r="2"/>
<circle cx="440.9" cy="649.1" r="2"/>
<circle cx="440.8" cy="652.0" r="2"/>
<circle cx="440.4" cy="654.3" r="2"/>
<circle cx="440.7" cy="656.4" r="2"/>
<circle cx="440.4" cy="658.7" r="2"/>
<circle cx="440.9" cy="662.7" r="2"/>
<circle cx="440.1" cy="665.1" r="2"/>
<circle cx="440.4" cy="667.5" r="2"/>
<circle cx="440.3" cy="670.5" r="2"/>
<circle cx="441.3" cy="673.3" r="2"/>
<circle cx="440.1" cy="675.9" r="2"/>
<circle cx="424.1" cy="628.6" r="2"/>
<circle cx="426.3" cy="629.7" r="2"/>
<circle cx="428.1" cy="628.9" r="2"/>
<circle cx="431.0" cy="629.3" r="2"/>
<circle cx="435.1" cy="628.8" r="2"/>
<circle cx="436.2" cy="628.9" r="2"/>
<circle cx="439.7" cy="629.2" r="2"/>
<circle cx="442.3" cy="629.1" r="2"/>
<circle cx="425.6" cy="678.2" r="2"/>
<circle cx="427.5" cy="679.0" r="2"/>
<circle cx="429.8" cy="678.5" r="2"/>
<circle cx="432.8" cy="678.7" r="2"/>
<circle cx="435.0" cy="679.1" r="2"/>
<circle cx="438.1" cy="677.4" r="2"/>
<circle cx="440.6" cy="678.0" r="2"/>
<circle cx="436.8" cy="610.6" r="2.4"/>
<circle cx="424.9" cy="620.5" r="2.4"/>
<circle cx="433.7" cy="622.5" r="2.4"/>
<circle cx="439.2" cy="623.3" r="2.4"/>
<circle cx="426.0" cy="689.3" r="2.4"/>
<circle cx="430.6" cy="691.6" r="2.4"/>
<circle cx="433.0" cy="690.0" r="2.4"/>
<circle cx="440.0" cy="693.2" r="2.4"/>
<circle cx="436.8" cy="696.3" r="2.4"/>
<circle cx="430.6" cy="699.4" r="2.4"/>
<circle cx="429.8" cy="701.7" r="2.4"/>
<circle cx="436.8" cy="701.7" r="2.4"/>
<circle cx="431.4" cy="710.2" r="2.4"/>
<circle cx="428.3" cy="684.6" r="2.4"/>
<circle cx="434.5" cy="685.4" r="2.4"/>
<circle cx="439.2" cy="682.3" r="2.4"/>
</g>
<g fill="#06a3ea">
<circle cx="489.0" cy="627.2" r="2.4"/>
<circle cx="488.5" cy="640.2" r="2.4"/>
<circle cx="484.8" cy="643.8" r="2.4"/>
<circle cx="492.1" cy="644.8" r="2.4"/>
<circle cx="496.2" cy="643.8" r="2.4"/>
<circle cx="485.4" cy="648.0" r="2.4"/>
<circle cx="489.5" cy="649.0" r="2.4"/>
<circle cx="493.6" cy="647.4" r="2.4"/>
<circle cx="497.8" cy="651.1" r="2.4"/>
<circle cx="484.8" cy="651.6" r="2.4"/>
<circle cx="488.5" cy="653.1" r="2.4"/>
<circle cx="492.1" cy="654.2" r="2.4"/>
<circle cx="485.4" cy="654.7" r="2.4"/>
<circle cx="490.5" cy="656.7" r="2.4"/>
<circle cx="496.2" cy="656.7" r="2.4"/>
<circle cx="484.8" cy="659.9" r="2.4"/>
<circle cx="490.0" cy="660.4" r="2.4"/>
<circle cx="494.2" cy="659.3" r="2.4"/>
<circle cx="497.3" cy="660.4" r="2.4"/>
<circle cx="484.8" cy="662.4" r="2.4"/>
<circle cx="498.3" cy="662.4" r="2.4"/>
<circle cx="493.1" cy="665.0" r="2.4"/>
<circle cx="496.2" cy="668.7" r="2.4"/>
<circle cx="483.8" cy="671.2" r="2.4"/>
<circle cx="488.5" cy="672.3" r="2.4"/>
<circle cx="491.0" cy="670.7" r="2.4"/>
<circle cx="493.6" cy="673.3" r="2.4"/>
<circle cx="495.7" cy="674.9" r="2.4"/>
<circle cx="499.3" cy="676.4" r="2.4"/>
<circle cx="493.6" cy="676.9" r="2.4"/>
<circle cx="486.9" cy="678.5" r="2.4"/>
<circle cx="484.8" cy="685.7" r="2.4"/>
<circle cx="485.4" cy="690.4" r="2.4"/>
<circle cx="492.1" cy="695.1" r="2.4"/>
</g>
<path d="M391.5,603.5 L391.5,751.2 L532.3,751.2" fill="none" stroke="#6a6a6a" stroke-width="1.1"/>
<line x1="389.0" y1="751.2" x2="391.5" y2="751.2" stroke="#6a6a6a" stroke-width="1"/>
<text x="383.5" y="754.4" font-size="8.7" textLength="4.20" lengthAdjust="spacingAndGlyphs" fill="#333" style="color:#333">0</text>
<line x1="389.0" y1="729.4" x2="391.5" y2="729.4" stroke="#6a6a6a" stroke-width="1"/>
<text x="383.5" y="732.6" font-size="8.7" textLength="4.20" lengthAdjust="spacingAndGlyphs" fill="#333" style="color:#333">2</text>
<line x1="389.0" y1="707.7" x2="391.5" y2="707.7" stroke="#6a6a6a" stroke-width="1"/>
<text x="383.5" y="710.9" font-size="8.7" textLength="4.20" lengthAdjust="spacingAndGlyphs" fill="#333" style="color:#333">4</text>
<line x1="389.0" y1="685.9" x2="391.5" y2="685.9" stroke="#6a6a6a" stroke-width="1"/>
<text x="383.5" y="689.1" font-size="8.7" textLength="4.20" lengthAdjust="spacingAndGlyphs" fill="#333" style="color:#333">6</text>
<line x1="389.0" y1="664.2" x2="391.5" y2="664.2" stroke="#6a6a6a" stroke-width="1"/>
<text x="383.5" y="667.4" font-size="8.7" textLength="4.20" lengthAdjust="spacingAndGlyphs" fill="#333" style="color:#333">8</text>
<line x1="389.0" y1="642.4" x2="391.5" y2="642.4" stroke="#6a6a6a" stroke-width="1"/>
<text x="379.3" y="645.6" font-size="8.7" textLength="8.40" lengthAdjust="spacingAndGlyphs" fill="#333" style="color:#333">10</text>
<line x1="389.0" y1="620.6" x2="391.5" y2="620.6" stroke="#6a6a6a" stroke-width="1"/>
<text x="379.3" y="623.8" font-size="8.7" textLength="8.40" lengthAdjust="spacingAndGlyphs" fill="#333" style="color:#333">12</text>
<line x1="433.2" y1="751.2" x2="433.2" y2="753.2" stroke="#6a6a6a" stroke-width="1"/>
<text x="423.0" y="769.6" font-size="11.3" textLength="17" lengthAdjust="spacingAndGlyphs" fill="#222">PNI</text>
<line x1="491.5" y1="751.2" x2="491.5" y2="753.2" stroke="#6a6a6a" stroke-width="1"/>
<text x="485.1" y="769.6" font-size="11.3" textLength="41" lengthAdjust="spacingAndGlyphs" fill="#222">non-PNI</text>
<text transform="translate(374.4,673.5) rotate(-90)" x="-64.9" y="0" font-size="11.2" textLength="129.8" lengthAdjust="spacingAndGlyphs" fill="#222">CLDN1 mRNA expression</text>
<text class="t" x="407.5" y="591.2" font-size="10.6" fill="#222" textLength="93.7" lengthAdjust="spacingAndGlyphs"><tspan font-style="italic">q</tspan>-Value: 1.32 × 10</text>
<text class="t" x="502.5" y="587.3" font-size="7.8" textLength="8.5" lengthAdjust="spacingAndGlyphs" fill="#222">−2</text>
</svg></body></html>
